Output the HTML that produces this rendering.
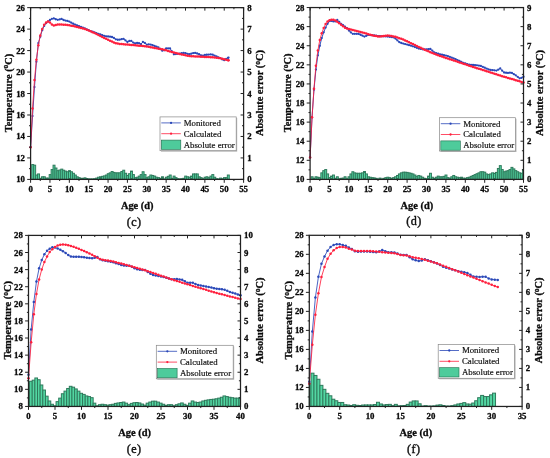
<!DOCTYPE html>
<html lang="en">
<head>
<meta charset="utf-8">
<title>Temperature monitoring vs calculation</title>
<style>
html,body{margin:0;padding:0;background:#fff;}
body{width:550px;height:458px;overflow:hidden;}
svg{display:block;font-family:"Liberation Serif",serif;}
.tl text{font-size:8.8px;font-weight:bold;fill:#0a0a0a;stroke:#0a0a0a;stroke-width:0.3px;}
.ti{font-size:10.4px;font-weight:bold;fill:#0a0a0a;stroke:#0a0a0a;stroke-width:0.3px;}
.ti .sup{font-size:7.5px;}
.lg text{font-size:8.8px;fill:#111;stroke:#111;stroke-width:0.18px;}
.cap{font-size:12.2px;fill:#111;stroke:#111;stroke-width:0.4px;letter-spacing:0.4px;}
</style>
</head>
<body>
<svg width="550" height="458" viewBox="0 0 550 458">
<rect width="550" height="458" fill="#fff"/>
<g class="chart" id="chart-c">
<g fill="#52D6A2" stroke="#2F7A5C" stroke-width="1.0">
<rect x="31.76" y="164.55" width="1.94" height="14.85"/>
<rect x="33.70" y="165.20" width="1.94" height="14.20"/>
<rect x="35.63" y="175.03" width="1.94" height="4.37"/>
<rect x="37.57" y="173.94" width="1.94" height="5.46"/>
<rect x="39.51" y="178.31" width="1.94" height="1.09"/>
<rect x="41.44" y="176.78" width="1.94" height="2.62"/>
<rect x="43.38" y="176.78" width="1.94" height="2.62"/>
<rect x="45.32" y="178.09" width="1.94" height="1.31"/>
<rect x="47.25" y="178.09" width="1.94" height="1.31"/>
<rect x="49.19" y="174.60" width="1.94" height="4.80"/>
<rect x="51.13" y="169.57" width="1.94" height="9.83"/>
<rect x="53.06" y="165.20" width="1.94" height="14.20"/>
<rect x="55.00" y="168.04" width="1.94" height="11.36"/>
<rect x="56.93" y="170.66" width="1.94" height="8.74"/>
<rect x="58.87" y="170.01" width="1.94" height="9.39"/>
<rect x="60.81" y="169.14" width="1.94" height="10.26"/>
<rect x="62.74" y="170.23" width="1.94" height="9.17"/>
<rect x="64.68" y="171.10" width="1.94" height="8.30"/>
<rect x="66.62" y="171.76" width="1.94" height="7.64"/>
<rect x="68.55" y="170.66" width="1.94" height="8.74"/>
<rect x="70.49" y="171.76" width="1.94" height="7.64"/>
<rect x="72.43" y="173.28" width="1.94" height="6.12"/>
<rect x="74.36" y="175.03" width="1.94" height="4.37"/>
<rect x="76.30" y="176.78" width="1.94" height="2.62"/>
<rect x="78.23" y="177.65" width="1.94" height="1.75"/>
<rect x="80.17" y="178.31" width="1.94" height="1.09"/>
<rect x="82.11" y="178.31" width="1.94" height="1.09"/>
<rect x="84.04" y="177.87" width="1.94" height="1.53"/>
<rect x="85.98" y="178.53" width="1.94" height="0.87"/>
<rect x="87.92" y="178.96" width="1.94" height="0.44"/>
<rect x="89.85" y="178.96" width="1.94" height="0.44"/>
<rect x="91.79" y="178.96" width="1.94" height="0.44"/>
<rect x="93.73" y="178.74" width="1.94" height="0.66"/>
<rect x="95.66" y="178.09" width="1.94" height="1.31"/>
<rect x="97.60" y="177.22" width="1.94" height="2.18"/>
<rect x="99.53" y="176.78" width="1.94" height="2.62"/>
<rect x="101.47" y="176.34" width="1.94" height="3.06"/>
<rect x="103.41" y="175.91" width="1.94" height="3.49"/>
<rect x="105.34" y="175.03" width="1.94" height="4.37"/>
<rect x="107.28" y="173.72" width="1.94" height="5.68"/>
<rect x="109.22" y="172.85" width="1.94" height="6.55"/>
<rect x="111.15" y="171.54" width="1.94" height="7.86"/>
<rect x="113.09" y="172.41" width="1.94" height="6.99"/>
<rect x="115.03" y="172.85" width="1.94" height="6.55"/>
<rect x="116.96" y="172.85" width="1.94" height="6.55"/>
<rect x="118.90" y="172.85" width="1.94" height="6.55"/>
<rect x="120.83" y="171.54" width="1.94" height="7.86"/>
<rect x="122.77" y="170.23" width="1.94" height="9.17"/>
<rect x="124.71" y="173.28" width="1.94" height="6.12"/>
<rect x="126.64" y="175.47" width="1.94" height="3.93"/>
<rect x="128.58" y="173.72" width="1.94" height="5.68"/>
<rect x="130.52" y="171.10" width="1.94" height="8.30"/>
<rect x="132.45" y="174.60" width="1.94" height="4.80"/>
<rect x="134.39" y="177.65" width="1.94" height="1.75"/>
<rect x="136.33" y="177.22" width="1.94" height="2.18"/>
<rect x="138.26" y="176.12" width="1.94" height="3.28"/>
<rect x="140.20" y="174.60" width="1.94" height="4.80"/>
<rect x="142.13" y="171.76" width="1.94" height="7.64"/>
<rect x="144.07" y="174.60" width="1.94" height="4.80"/>
<rect x="146.01" y="177.65" width="1.94" height="1.75"/>
<rect x="147.94" y="176.78" width="1.94" height="2.62"/>
<rect x="149.88" y="175.03" width="1.94" height="4.37"/>
<rect x="151.82" y="175.47" width="1.94" height="3.93"/>
<rect x="153.75" y="176.12" width="1.94" height="3.28"/>
<rect x="155.69" y="177.22" width="1.94" height="2.18"/>
<rect x="157.63" y="177.65" width="1.94" height="1.75"/>
<rect x="159.56" y="178.31" width="1.94" height="1.09"/>
<rect x="161.50" y="176.78" width="1.94" height="2.62"/>
<rect x="163.43" y="178.96" width="1.94" height="0.44"/>
<rect x="165.37" y="177.22" width="1.94" height="2.18"/>
<rect x="167.31" y="176.34" width="1.94" height="3.06"/>
<rect x="169.24" y="175.03" width="1.94" height="4.37"/>
<rect x="171.18" y="178.31" width="1.94" height="1.09"/>
<rect x="173.12" y="176.12" width="1.94" height="3.28"/>
<rect x="175.05" y="177.65" width="1.94" height="1.75"/>
<rect x="176.99" y="178.74" width="1.94" height="0.66"/>
<rect x="178.93" y="178.96" width="1.94" height="0.44"/>
<rect x="180.86" y="178.74" width="1.94" height="0.66"/>
<rect x="182.80" y="178.31" width="1.94" height="1.09"/>
<rect x="184.73" y="176.12" width="1.94" height="3.28"/>
<rect x="186.67" y="176.78" width="1.94" height="2.62"/>
<rect x="188.61" y="177.22" width="1.94" height="2.18"/>
<rect x="190.54" y="176.12" width="1.94" height="3.28"/>
<rect x="192.48" y="173.94" width="1.94" height="5.46"/>
<rect x="194.42" y="173.94" width="1.94" height="5.46"/>
<rect x="196.35" y="173.94" width="1.94" height="5.46"/>
<rect x="198.29" y="176.78" width="1.94" height="2.62"/>
<rect x="200.23" y="177.65" width="1.94" height="1.75"/>
<rect x="202.16" y="178.74" width="1.94" height="0.66"/>
<rect x="204.10" y="177.22" width="1.94" height="2.18"/>
<rect x="206.03" y="176.78" width="1.94" height="2.62"/>
<rect x="207.97" y="177.65" width="1.94" height="1.75"/>
<rect x="209.91" y="176.12" width="1.94" height="3.28"/>
<rect x="211.84" y="174.60" width="1.94" height="4.80"/>
<rect x="213.78" y="177.22" width="1.94" height="2.18"/>
<rect x="215.72" y="178.74" width="1.94" height="0.66"/>
<rect x="217.65" y="178.96" width="1.94" height="0.44"/>
<rect x="219.59" y="178.09" width="1.94" height="1.31"/>
<rect x="221.53" y="178.74" width="1.94" height="0.66"/>
<rect x="223.46" y="177.65" width="1.94" height="1.75"/>
<rect x="225.40" y="177.65" width="1.94" height="1.75"/>
<rect x="227.33" y="175.03" width="1.94" height="4.37"/>
</g>
<polyline points="30.60,147.20 32.54,116.07 34.47,87.08 36.41,61.64 38.35,43.07 40.28,36.63 42.22,30.19 44.15,25.90 46.09,23.21 48.03,21.39 49.96,19.99 51.90,18.81 53.84,18.38 55.77,19.24 57.71,19.78 59.65,19.46 61.58,18.92 63.52,19.99 65.45,20.53 67.39,20.93 69.33,21.60 71.26,22.68 73.20,23.75 75.14,24.56 77.07,25.36 79.01,26.17 80.95,26.97 82.88,27.73 84.82,28.49 86.75,29.32 88.69,30.18 90.63,31.05 92.56,31.75 94.50,32.45 96.44,33.14 98.37,33.82 100.31,34.49 102.25,35.14 104.18,35.79 106.12,36.34 108.05,36.49 109.99,36.63 111.93,37.02 113.86,37.97 115.80,39.32 117.74,39.77 119.67,39.64 121.61,39.21 123.55,38.78 125.48,40.39 127.42,42.00 129.35,40.93 131.29,40.93 133.23,42.54 135.16,43.29 137.10,43.02 139.04,43.23 140.97,44.15 142.91,41.91 144.85,42.89 146.78,44.68 148.72,44.30 150.65,44.55 152.59,45.22 154.53,45.94 156.46,46.65 158.40,47.37 160.34,49.02 162.27,50.68 164.21,50.25 166.15,48.44 168.08,48.44 170.02,48.44 171.95,51.39 173.89,54.34 175.83,54.08 177.76,53.81 179.70,53.54 181.64,53.27 183.57,53.00 185.51,53.11 187.45,53.80 189.38,54.23 191.32,53.65 193.25,53.08 195.19,52.95 197.13,53.49 199.06,54.24 201.00,55.31 202.94,55.65 204.87,54.88 206.81,54.73 208.75,54.58 210.68,54.43 212.62,54.70 214.55,55.60 216.49,56.49 218.43,57.30 220.36,58.10 222.30,59.41 224.24,60.22 226.17,59.01 228.11,57.81 228.50,57.56" fill="none" stroke="#2A48B8" stroke-width="0.95" stroke-linejoin="round"/>
<g fill="#2A48B8">
<circle cx="30.60" cy="147.20" r="1.15"/>
<circle cx="32.54" cy="116.07" r="1.15"/>
<circle cx="34.47" cy="87.08" r="1.15"/>
<circle cx="36.41" cy="61.64" r="1.15"/>
<circle cx="38.35" cy="43.07" r="1.15"/>
<circle cx="40.28" cy="36.63" r="1.15"/>
<circle cx="42.22" cy="30.19" r="1.15"/>
<circle cx="44.15" cy="25.90" r="1.15"/>
<circle cx="46.09" cy="23.21" r="1.15"/>
<circle cx="48.03" cy="21.39" r="1.15"/>
<circle cx="49.96" cy="19.99" r="1.15"/>
<circle cx="51.90" cy="18.81" r="1.15"/>
<circle cx="53.84" cy="18.38" r="1.15"/>
<circle cx="55.77" cy="19.24" r="1.15"/>
<circle cx="57.71" cy="19.78" r="1.15"/>
<circle cx="59.65" cy="19.46" r="1.15"/>
<circle cx="61.58" cy="18.92" r="1.15"/>
<circle cx="63.52" cy="19.99" r="1.15"/>
<circle cx="65.45" cy="20.53" r="1.15"/>
<circle cx="67.39" cy="20.93" r="1.15"/>
<circle cx="69.33" cy="21.60" r="1.15"/>
<circle cx="71.26" cy="22.68" r="1.15"/>
<circle cx="73.20" cy="23.75" r="1.15"/>
<circle cx="75.14" cy="24.56" r="1.15"/>
<circle cx="77.07" cy="25.36" r="1.15"/>
<circle cx="79.01" cy="26.17" r="1.15"/>
<circle cx="80.95" cy="26.97" r="1.15"/>
<circle cx="82.88" cy="27.73" r="1.15"/>
<circle cx="84.82" cy="28.49" r="1.15"/>
<circle cx="86.75" cy="29.32" r="1.15"/>
<circle cx="88.69" cy="30.18" r="1.15"/>
<circle cx="90.63" cy="31.05" r="1.15"/>
<circle cx="92.56" cy="31.75" r="1.15"/>
<circle cx="94.50" cy="32.45" r="1.15"/>
<circle cx="96.44" cy="33.14" r="1.15"/>
<circle cx="98.37" cy="33.82" r="1.15"/>
<circle cx="100.31" cy="34.49" r="1.15"/>
<circle cx="102.25" cy="35.14" r="1.15"/>
<circle cx="104.18" cy="35.79" r="1.15"/>
<circle cx="106.12" cy="36.34" r="1.15"/>
<circle cx="108.05" cy="36.49" r="1.15"/>
<circle cx="109.99" cy="36.63" r="1.15"/>
<circle cx="111.93" cy="37.02" r="1.15"/>
<circle cx="113.86" cy="37.97" r="1.15"/>
<circle cx="115.80" cy="39.32" r="1.15"/>
<circle cx="117.74" cy="39.77" r="1.15"/>
<circle cx="119.67" cy="39.64" r="1.15"/>
<circle cx="121.61" cy="39.21" r="1.15"/>
<circle cx="123.55" cy="38.78" r="1.15"/>
<circle cx="125.48" cy="40.39" r="1.15"/>
<circle cx="127.42" cy="42.00" r="1.15"/>
<circle cx="129.35" cy="40.93" r="1.15"/>
<circle cx="131.29" cy="40.93" r="1.15"/>
<circle cx="133.23" cy="42.54" r="1.15"/>
<circle cx="135.16" cy="43.29" r="1.15"/>
<circle cx="137.10" cy="43.02" r="1.15"/>
<circle cx="139.04" cy="43.23" r="1.15"/>
<circle cx="140.97" cy="44.15" r="1.15"/>
<circle cx="142.91" cy="41.91" r="1.15"/>
<circle cx="144.85" cy="42.89" r="1.15"/>
<circle cx="146.78" cy="44.68" r="1.15"/>
<circle cx="148.72" cy="44.30" r="1.15"/>
<circle cx="150.65" cy="44.55" r="1.15"/>
<circle cx="152.59" cy="45.22" r="1.15"/>
<circle cx="154.53" cy="45.94" r="1.15"/>
<circle cx="156.46" cy="46.65" r="1.15"/>
<circle cx="158.40" cy="47.37" r="1.15"/>
<circle cx="160.34" cy="49.02" r="1.15"/>
<circle cx="162.27" cy="50.68" r="1.15"/>
<circle cx="164.21" cy="50.25" r="1.15"/>
<circle cx="166.15" cy="48.44" r="1.15"/>
<circle cx="168.08" cy="48.44" r="1.15"/>
<circle cx="170.02" cy="48.44" r="1.15"/>
<circle cx="171.95" cy="51.39" r="1.15"/>
<circle cx="173.89" cy="54.34" r="1.15"/>
<circle cx="175.83" cy="54.08" r="1.15"/>
<circle cx="177.76" cy="53.81" r="1.15"/>
<circle cx="179.70" cy="53.54" r="1.15"/>
<circle cx="181.64" cy="53.27" r="1.15"/>
<circle cx="183.57" cy="53.00" r="1.15"/>
<circle cx="185.51" cy="53.11" r="1.15"/>
<circle cx="187.45" cy="53.80" r="1.15"/>
<circle cx="189.38" cy="54.23" r="1.15"/>
<circle cx="191.32" cy="53.65" r="1.15"/>
<circle cx="193.25" cy="53.08" r="1.15"/>
<circle cx="195.19" cy="52.95" r="1.15"/>
<circle cx="197.13" cy="53.49" r="1.15"/>
<circle cx="199.06" cy="54.24" r="1.15"/>
<circle cx="201.00" cy="55.31" r="1.15"/>
<circle cx="202.94" cy="55.65" r="1.15"/>
<circle cx="204.87" cy="54.88" r="1.15"/>
<circle cx="206.81" cy="54.73" r="1.15"/>
<circle cx="208.75" cy="54.58" r="1.15"/>
<circle cx="210.68" cy="54.43" r="1.15"/>
<circle cx="212.62" cy="54.70" r="1.15"/>
<circle cx="214.55" cy="55.60" r="1.15"/>
<circle cx="216.49" cy="56.49" r="1.15"/>
<circle cx="218.43" cy="57.30" r="1.15"/>
<circle cx="220.36" cy="58.10" r="1.15"/>
<circle cx="222.30" cy="59.41" r="1.15"/>
<circle cx="224.24" cy="60.22" r="1.15"/>
<circle cx="226.17" cy="59.01" r="1.15"/>
<circle cx="228.11" cy="57.81" r="1.15"/>
<circle cx="228.50" cy="57.56" r="1.15"/>
</g>
<polyline points="30.60,147.20 32.54,108.55 34.47,80.11 36.41,59.71 38.35,45.22 40.28,35.56 42.22,29.12 44.15,24.83 46.09,22.46 48.03,21.60 49.96,22.46 51.90,24.61 53.84,25.58 55.77,25.04 57.71,24.61 59.65,24.46 61.58,24.49 63.52,24.66 65.45,24.83 67.39,25.09 69.33,25.36 71.26,25.63 73.20,25.90 75.14,26.40 77.07,26.90 79.01,27.41 80.95,27.91 82.88,28.41 84.82,28.92 86.75,29.64 88.69,30.50 90.63,31.36 92.56,32.22 94.50,33.09 96.44,33.95 98.37,34.93 100.31,35.92 102.25,36.90 104.18,37.89 106.12,38.87 108.05,39.85 109.99,40.71 111.93,41.57 113.86,42.43 115.80,43.29 117.74,43.61 119.67,43.93 121.61,44.09 123.55,44.25 125.48,44.42 127.42,44.58 129.35,44.74 131.29,44.90 133.23,45.06 135.16,45.22 137.10,45.44 139.04,45.65 140.97,45.86 142.91,46.08 144.85,46.29 146.78,46.51 148.72,46.87 150.65,47.22 152.59,47.58 154.53,47.94 156.46,48.30 158.40,48.66 160.34,49.01 162.27,49.37 164.21,49.84 166.15,50.37 168.08,50.91 170.02,51.45 171.95,51.98 173.89,52.52 175.83,53.06 177.76,53.59 179.70,54.02 181.64,54.44 183.57,54.87 185.51,55.30 187.45,55.72 189.38,56.08 191.32,56.19 193.25,56.29 195.19,56.39 197.13,56.50 199.06,56.60 201.00,56.71 202.94,56.79 204.87,56.88 206.81,56.97 208.75,57.05 210.68,57.14 212.62,57.23 214.55,57.47 216.49,57.75 218.43,58.03 220.36,58.32 222.30,58.78 224.24,59.24 226.17,59.70 228.11,60.16 228.50,60.25" fill="none" stroke="#FF1F3D" stroke-width="0.85" stroke-linejoin="round"/>
<g fill="#FF1F3D">
<circle cx="30.60" cy="147.20" r="1.25"/>
<circle cx="32.54" cy="108.55" r="1.25"/>
<circle cx="34.47" cy="80.11" r="1.25"/>
<circle cx="36.41" cy="59.71" r="1.25"/>
<circle cx="38.35" cy="45.22" r="1.25"/>
<circle cx="40.28" cy="35.56" r="1.25"/>
<circle cx="42.22" cy="29.12" r="1.25"/>
<circle cx="44.15" cy="24.83" r="1.25"/>
<circle cx="46.09" cy="22.46" r="1.25"/>
<circle cx="48.03" cy="21.60" r="1.25"/>
<circle cx="49.96" cy="22.46" r="1.25"/>
<circle cx="51.90" cy="24.61" r="1.25"/>
<circle cx="53.84" cy="25.58" r="1.25"/>
<circle cx="55.77" cy="25.04" r="1.25"/>
<circle cx="57.71" cy="24.61" r="1.25"/>
<circle cx="59.65" cy="24.46" r="1.25"/>
<circle cx="61.58" cy="24.49" r="1.25"/>
<circle cx="63.52" cy="24.66" r="1.25"/>
<circle cx="65.45" cy="24.83" r="1.25"/>
<circle cx="67.39" cy="25.09" r="1.25"/>
<circle cx="69.33" cy="25.36" r="1.25"/>
<circle cx="71.26" cy="25.63" r="1.25"/>
<circle cx="73.20" cy="25.90" r="1.25"/>
<circle cx="75.14" cy="26.40" r="1.25"/>
<circle cx="77.07" cy="26.90" r="1.25"/>
<circle cx="79.01" cy="27.41" r="1.25"/>
<circle cx="80.95" cy="27.91" r="1.25"/>
<circle cx="82.88" cy="28.41" r="1.25"/>
<circle cx="84.82" cy="28.92" r="1.25"/>
<circle cx="86.75" cy="29.64" r="1.25"/>
<circle cx="88.69" cy="30.50" r="1.25"/>
<circle cx="90.63" cy="31.36" r="1.25"/>
<circle cx="92.56" cy="32.22" r="1.25"/>
<circle cx="94.50" cy="33.09" r="1.25"/>
<circle cx="96.44" cy="33.95" r="1.25"/>
<circle cx="98.37" cy="34.93" r="1.25"/>
<circle cx="100.31" cy="35.92" r="1.25"/>
<circle cx="102.25" cy="36.90" r="1.25"/>
<circle cx="104.18" cy="37.89" r="1.25"/>
<circle cx="106.12" cy="38.87" r="1.25"/>
<circle cx="108.05" cy="39.85" r="1.25"/>
<circle cx="109.99" cy="40.71" r="1.25"/>
<circle cx="111.93" cy="41.57" r="1.25"/>
<circle cx="113.86" cy="42.43" r="1.25"/>
<circle cx="115.80" cy="43.29" r="1.25"/>
<circle cx="117.74" cy="43.61" r="1.25"/>
<circle cx="119.67" cy="43.93" r="1.25"/>
<circle cx="121.61" cy="44.09" r="1.25"/>
<circle cx="123.55" cy="44.25" r="1.25"/>
<circle cx="125.48" cy="44.42" r="1.25"/>
<circle cx="127.42" cy="44.58" r="1.25"/>
<circle cx="129.35" cy="44.74" r="1.25"/>
<circle cx="131.29" cy="44.90" r="1.25"/>
<circle cx="133.23" cy="45.06" r="1.25"/>
<circle cx="135.16" cy="45.22" r="1.25"/>
<circle cx="137.10" cy="45.44" r="1.25"/>
<circle cx="139.04" cy="45.65" r="1.25"/>
<circle cx="140.97" cy="45.86" r="1.25"/>
<circle cx="142.91" cy="46.08" r="1.25"/>
<circle cx="144.85" cy="46.29" r="1.25"/>
<circle cx="146.78" cy="46.51" r="1.25"/>
<circle cx="148.72" cy="46.87" r="1.25"/>
<circle cx="150.65" cy="47.22" r="1.25"/>
<circle cx="152.59" cy="47.58" r="1.25"/>
<circle cx="154.53" cy="47.94" r="1.25"/>
<circle cx="156.46" cy="48.30" r="1.25"/>
<circle cx="158.40" cy="48.66" r="1.25"/>
<circle cx="160.34" cy="49.01" r="1.25"/>
<circle cx="162.27" cy="49.37" r="1.25"/>
<circle cx="164.21" cy="49.84" r="1.25"/>
<circle cx="166.15" cy="50.37" r="1.25"/>
<circle cx="168.08" cy="50.91" r="1.25"/>
<circle cx="170.02" cy="51.45" r="1.25"/>
<circle cx="171.95" cy="51.98" r="1.25"/>
<circle cx="173.89" cy="52.52" r="1.25"/>
<circle cx="175.83" cy="53.06" r="1.25"/>
<circle cx="177.76" cy="53.59" r="1.25"/>
<circle cx="179.70" cy="54.02" r="1.25"/>
<circle cx="181.64" cy="54.44" r="1.25"/>
<circle cx="183.57" cy="54.87" r="1.25"/>
<circle cx="185.51" cy="55.30" r="1.25"/>
<circle cx="187.45" cy="55.72" r="1.25"/>
<circle cx="189.38" cy="56.08" r="1.25"/>
<circle cx="191.32" cy="56.19" r="1.25"/>
<circle cx="193.25" cy="56.29" r="1.25"/>
<circle cx="195.19" cy="56.39" r="1.25"/>
<circle cx="197.13" cy="56.50" r="1.25"/>
<circle cx="199.06" cy="56.60" r="1.25"/>
<circle cx="201.00" cy="56.71" r="1.25"/>
<circle cx="202.94" cy="56.79" r="1.25"/>
<circle cx="204.87" cy="56.88" r="1.25"/>
<circle cx="206.81" cy="56.97" r="1.25"/>
<circle cx="208.75" cy="57.05" r="1.25"/>
<circle cx="210.68" cy="57.14" r="1.25"/>
<circle cx="212.62" cy="57.23" r="1.25"/>
<circle cx="214.55" cy="57.47" r="1.25"/>
<circle cx="216.49" cy="57.75" r="1.25"/>
<circle cx="218.43" cy="58.03" r="1.25"/>
<circle cx="220.36" cy="58.32" r="1.25"/>
<circle cx="222.30" cy="58.78" r="1.25"/>
<circle cx="224.24" cy="59.24" r="1.25"/>
<circle cx="226.17" cy="59.70" r="1.25"/>
<circle cx="228.11" cy="60.16" r="1.25"/>
<circle cx="228.50" cy="60.25" r="1.25"/>
</g>
<rect x="30.60" y="7.65" width="213.00" height="171.75" fill="none" stroke="#222" stroke-width="1.25"/>
<path d="M30.60 179.40v3.4M30.60 7.65v3M40.28 179.40v1.6M40.28 7.65v1.6M49.96 179.40v3.4M49.96 7.65v3M59.65 179.40v1.6M59.65 7.65v1.6M69.33 179.40v3.4M69.33 7.65v3M79.01 179.40v1.6M79.01 7.65v1.6M88.69 179.40v3.4M88.69 7.65v3M98.37 179.40v1.6M98.37 7.65v1.6M108.05 179.40v3.4M108.05 7.65v3M117.74 179.40v1.6M117.74 7.65v1.6M127.42 179.40v3.4M127.42 7.65v3M137.10 179.40v1.6M137.10 7.65v1.6M146.78 179.40v3.4M146.78 7.65v3M156.46 179.40v1.6M156.46 7.65v1.6M166.15 179.40v3.4M166.15 7.65v3M175.83 179.40v1.6M175.83 7.65v1.6M185.51 179.40v3.4M185.51 7.65v3M195.19 179.40v1.6M195.19 7.65v1.6M204.87 179.40v3.4M204.87 7.65v3M214.55 179.40v1.6M214.55 7.65v1.6M224.24 179.40v3.4M224.24 7.65v3M233.92 179.40v1.6M233.92 7.65v1.6M243.60 179.40v3.4M243.60 7.65v3M30.60 179.40h-3.4M30.60 168.67h-1.6M30.60 157.93h-3.4M30.60 147.20h-1.6M30.60 136.46h-3.4M30.60 125.73h-1.6M30.60 114.99h-3.4M30.60 104.26h-1.6M30.60 93.53h-3.4M30.60 82.79h-1.6M30.60 72.06h-3.4M30.60 61.32h-1.6M30.60 50.59h-3.4M30.60 39.85h-1.6M30.60 29.12h-3.4M30.60 18.38h-1.6M30.60 7.65h-3.4M243.60 179.40h-3M243.60 168.67h-1.6M243.60 157.93h-3M243.60 147.20h-1.6M243.60 136.46h-3M243.60 125.73h-1.6M243.60 114.99h-3M243.60 104.26h-1.6M243.60 93.53h-3M243.60 82.79h-1.6M243.60 72.06h-3M243.60 61.32h-1.6M243.60 50.59h-3M243.60 39.85h-1.6M243.60 29.12h-3M243.60 18.38h-1.6M243.60 7.65h-3" stroke="#222" stroke-width="1" fill="none"/>
<g class="tl" text-anchor="middle">
<text x="30.60" y="192.40">0</text>
<text x="49.96" y="192.40">5</text>
<text x="69.33" y="192.40">10</text>
<text x="88.69" y="192.40">15</text>
<text x="108.05" y="192.40">20</text>
<text x="127.42" y="192.40">25</text>
<text x="146.78" y="192.40">30</text>
<text x="166.15" y="192.40">35</text>
<text x="185.51" y="192.40">40</text>
<text x="204.87" y="192.40">45</text>
<text x="224.24" y="192.40">50</text>
<text x="243.60" y="192.40">55</text>
</g>
<g class="tl" text-anchor="end">
<text x="25.00" y="182.40">10</text>
<text x="25.00" y="160.93">12</text>
<text x="25.00" y="139.46">14</text>
<text x="25.00" y="117.99">16</text>
<text x="25.00" y="96.53">18</text>
<text x="25.00" y="75.06">20</text>
<text x="25.00" y="53.59">22</text>
<text x="25.00" y="32.12">24</text>
<text x="25.00" y="10.65">26</text>
</g>
<g class="tl" text-anchor="start">
<text x="247.20" y="182.40">0</text>
<text x="247.20" y="160.93">1</text>
<text x="247.20" y="139.46">2</text>
<text x="247.20" y="117.99">3</text>
<text x="247.20" y="96.53">4</text>
<text x="247.20" y="75.06">5</text>
<text x="247.20" y="53.59">6</text>
<text x="247.20" y="32.12">7</text>
<text x="247.20" y="10.65">8</text>
</g>
<text class="ti" text-anchor="middle" transform="translate(11.50 92.93) rotate(-90)">Temperature (<tspan class="sup" dy="-3.2">o</tspan><tspan dy="3.2">C)</tspan></text>
<text class="ti" text-anchor="middle" transform="translate(262.80 93.03) rotate(-90)">Absolute error (<tspan class="sup" dy="-3.2">o</tspan><tspan dy="3.2">C)</tspan></text>
<text class="ti" text-anchor="middle" x="137.20" y="209.20">Age (d)</text>
<text class="cap" text-anchor="middle" x="134.20" y="225.80">(c)</text>
<rect x="161.00" y="117.90" width="76.20" height="33.80" fill="#bbb"/>
<rect x="160.00" y="116.90" width="76.20" height="33.80" fill="#fff" stroke="#888" stroke-width="0.7"/>
<path d="M161.30 122.90H180.80" stroke="#2A48B8" stroke-width="0.8"/><circle cx="171.05" cy="122.90" r="1.15" fill="#2A48B8"/>
<path d="M161.30 133.70H180.80" stroke="#FF1F3D" stroke-width="0.8"/><circle cx="171.05" cy="133.70" r="1.15" fill="#FF1F3D"/>
<rect x="161.30" y="140.10" width="19.50" height="9.3" fill="#4ECB9B" stroke="#1F6B4B" stroke-width="0.6"/>
<g class="lg"><text x="183.70" y="125.80">Monitored</text><text x="183.70" y="136.60">Calculated</text><text x="183.70" y="147.60">Absolute error</text></g>
</g>
<g class="chart" id="chart-d">
<g fill="#52D6A2" stroke="#2F7A5C" stroke-width="1.0">
<rect x="311.15" y="176.78" width="1.94" height="2.62"/>
<rect x="313.09" y="178.31" width="1.94" height="1.09"/>
<rect x="315.03" y="176.78" width="1.94" height="2.62"/>
<rect x="316.97" y="177.22" width="1.94" height="2.18"/>
<rect x="318.91" y="177.65" width="1.94" height="1.75"/>
<rect x="320.85" y="172.85" width="1.94" height="6.55"/>
<rect x="322.79" y="170.66" width="1.94" height="8.74"/>
<rect x="324.73" y="169.57" width="1.94" height="9.83"/>
<rect x="326.67" y="173.94" width="1.94" height="5.46"/>
<rect x="328.61" y="177.65" width="1.94" height="1.75"/>
<rect x="330.55" y="176.12" width="1.94" height="3.28"/>
<rect x="332.49" y="175.03" width="1.94" height="4.37"/>
<rect x="334.43" y="178.31" width="1.94" height="1.09"/>
<rect x="336.37" y="176.78" width="1.94" height="2.62"/>
<rect x="338.31" y="178.74" width="1.94" height="0.66"/>
<rect x="340.25" y="178.31" width="1.94" height="1.09"/>
<rect x="342.19" y="178.09" width="1.94" height="1.31"/>
<rect x="344.13" y="176.78" width="1.94" height="2.62"/>
<rect x="346.07" y="178.74" width="1.94" height="0.66"/>
<rect x="348.01" y="176.78" width="1.94" height="2.62"/>
<rect x="349.95" y="173.94" width="1.94" height="5.46"/>
<rect x="351.89" y="171.75" width="1.94" height="7.65"/>
<rect x="353.83" y="172.85" width="1.94" height="6.55"/>
<rect x="355.77" y="173.28" width="1.94" height="6.12"/>
<rect x="357.71" y="173.28" width="1.94" height="6.12"/>
<rect x="359.65" y="173.28" width="1.94" height="6.12"/>
<rect x="361.59" y="172.85" width="1.94" height="6.55"/>
<rect x="363.53" y="171.54" width="1.94" height="7.86"/>
<rect x="365.47" y="173.94" width="1.94" height="5.46"/>
<rect x="367.41" y="176.78" width="1.94" height="2.62"/>
<rect x="369.35" y="177.22" width="1.94" height="2.18"/>
<rect x="371.29" y="177.65" width="1.94" height="1.75"/>
<rect x="373.23" y="177.87" width="1.94" height="1.53"/>
<rect x="375.17" y="178.31" width="1.94" height="1.09"/>
<rect x="377.11" y="178.96" width="1.94" height="0.44"/>
<rect x="379.05" y="178.09" width="1.94" height="1.31"/>
<rect x="380.99" y="178.96" width="1.94" height="0.44"/>
<rect x="382.93" y="178.31" width="1.94" height="1.09"/>
<rect x="384.87" y="177.65" width="1.94" height="1.75"/>
<rect x="386.81" y="177.22" width="1.94" height="2.18"/>
<rect x="388.75" y="177.65" width="1.94" height="1.75"/>
<rect x="390.69" y="178.31" width="1.94" height="1.09"/>
<rect x="392.63" y="177.65" width="1.94" height="1.75"/>
<rect x="394.57" y="176.78" width="1.94" height="2.62"/>
<rect x="396.51" y="175.47" width="1.94" height="3.93"/>
<rect x="398.45" y="173.94" width="1.94" height="5.46"/>
<rect x="400.39" y="172.85" width="1.94" height="6.55"/>
<rect x="402.33" y="172.19" width="1.94" height="7.21"/>
<rect x="404.27" y="172.19" width="1.94" height="7.21"/>
<rect x="406.21" y="172.41" width="1.94" height="6.99"/>
<rect x="408.15" y="172.85" width="1.94" height="6.55"/>
<rect x="410.09" y="173.28" width="1.94" height="6.12"/>
<rect x="412.03" y="173.94" width="1.94" height="5.46"/>
<rect x="413.97" y="175.03" width="1.94" height="4.37"/>
<rect x="415.91" y="176.34" width="1.94" height="3.06"/>
<rect x="417.85" y="175.47" width="1.94" height="3.93"/>
<rect x="419.79" y="176.12" width="1.94" height="3.28"/>
<rect x="421.73" y="177.22" width="1.94" height="2.18"/>
<rect x="423.67" y="178.31" width="1.94" height="1.09"/>
<rect x="425.61" y="178.74" width="1.94" height="0.66"/>
<rect x="427.55" y="176.12" width="1.94" height="3.28"/>
<rect x="429.49" y="173.28" width="1.94" height="6.12"/>
<rect x="431.43" y="177.22" width="1.94" height="2.18"/>
<rect x="433.37" y="178.31" width="1.94" height="1.09"/>
<rect x="435.31" y="177.22" width="1.94" height="2.18"/>
<rect x="437.25" y="176.12" width="1.94" height="3.28"/>
<rect x="439.19" y="176.78" width="1.94" height="2.62"/>
<rect x="441.13" y="176.78" width="1.94" height="2.62"/>
<rect x="443.07" y="176.34" width="1.94" height="3.06"/>
<rect x="445.01" y="175.03" width="1.94" height="4.37"/>
<rect x="446.95" y="177.65" width="1.94" height="1.75"/>
<rect x="448.89" y="178.09" width="1.94" height="1.31"/>
<rect x="450.83" y="176.78" width="1.94" height="2.62"/>
<rect x="452.77" y="175.47" width="1.94" height="3.93"/>
<rect x="454.71" y="176.78" width="1.94" height="2.62"/>
<rect x="456.65" y="177.22" width="1.94" height="2.18"/>
<rect x="458.59" y="177.65" width="1.94" height="1.75"/>
<rect x="460.53" y="177.22" width="1.94" height="2.18"/>
<rect x="462.47" y="178.09" width="1.94" height="1.31"/>
<rect x="464.41" y="178.31" width="1.94" height="1.09"/>
<rect x="466.35" y="177.65" width="1.94" height="1.75"/>
<rect x="468.29" y="177.22" width="1.94" height="2.18"/>
<rect x="470.23" y="176.34" width="1.94" height="3.06"/>
<rect x="472.17" y="175.47" width="1.94" height="3.93"/>
<rect x="474.11" y="174.59" width="1.94" height="4.81"/>
<rect x="476.05" y="173.72" width="1.94" height="5.68"/>
<rect x="477.99" y="172.85" width="1.94" height="6.55"/>
<rect x="479.93" y="171.75" width="1.94" height="7.65"/>
<rect x="481.87" y="171.75" width="1.94" height="7.65"/>
<rect x="483.81" y="172.19" width="1.94" height="7.21"/>
<rect x="485.75" y="173.94" width="1.94" height="5.46"/>
<rect x="487.69" y="174.59" width="1.94" height="4.81"/>
<rect x="489.63" y="173.94" width="1.94" height="5.46"/>
<rect x="491.57" y="172.85" width="1.94" height="6.55"/>
<rect x="493.51" y="173.28" width="1.94" height="6.12"/>
<rect x="495.45" y="172.41" width="1.94" height="6.99"/>
<rect x="497.39" y="168.48" width="1.94" height="10.92"/>
<rect x="499.33" y="165.64" width="1.94" height="13.76"/>
<rect x="501.27" y="169.57" width="1.94" height="9.83"/>
<rect x="503.21" y="171.75" width="1.94" height="7.65"/>
<rect x="505.15" y="171.10" width="1.94" height="8.30"/>
<rect x="507.09" y="170.66" width="1.94" height="8.74"/>
<rect x="509.03" y="169.57" width="1.94" height="9.83"/>
<rect x="510.97" y="167.38" width="1.94" height="12.02"/>
<rect x="512.91" y="168.91" width="1.94" height="10.49"/>
<rect x="514.85" y="170.66" width="1.94" height="8.74"/>
<rect x="516.79" y="171.75" width="1.94" height="7.65"/>
<rect x="518.73" y="172.85" width="1.94" height="6.55"/>
<rect x="520.67" y="173.28" width="1.94" height="6.12"/>
<rect x="522.61" y="169.57" width="0.89" height="9.83"/>
</g>
<polyline points="310.10,157.44 312.04,117.34 313.98,89.66 315.92,69.61 317.86,55.29 319.80,45.74 321.74,38.10 323.68,32.37 325.62,27.60 327.56,23.78 329.50,21.11 331.44,20.92 333.38,21.39 335.32,21.39 337.26,19.96 339.20,21.87 341.14,23.78 343.08,25.21 345.02,26.64 346.96,28.08 348.90,30.60 350.84,32.43 352.78,33.80 354.72,33.80 356.66,33.80 358.60,33.96 360.54,34.76 362.48,35.67 364.42,36.60 366.36,35.73 368.30,34.86 370.24,35.05 372.18,35.24 374.12,35.50 376.06,35.77 378.00,36.03 379.94,36.22 381.88,36.28 383.82,36.35 385.76,36.41 387.70,36.48 389.64,36.79 391.58,37.10 393.52,37.40 395.46,38.59 397.40,40.38 399.34,42.22 401.28,43.02 403.22,43.57 405.16,44.12 407.10,44.62 409.04,45.13 410.98,45.63 412.92,46.29 414.86,47.05 416.80,47.81 418.74,48.49 420.68,48.90 422.62,49.31 424.56,49.49 426.50,49.32 428.44,49.15 430.38,48.98 432.32,50.68 434.26,52.37 436.20,53.17 438.14,53.75 440.08,54.33 442.02,54.76 443.96,55.19 445.90,55.62 447.84,56.05 449.78,56.86 451.72,57.67 453.66,58.47 455.60,59.26 457.54,60.06 459.48,61.01 461.42,61.97 463.36,62.92 465.30,63.52 467.24,64.12 469.18,64.71 471.12,64.92 473.06,65.02 475.00,65.12 476.94,65.36 478.88,65.60 480.82,65.96 482.76,66.83 484.70,67.70 486.64,68.57 488.58,69.45 490.52,69.91 492.46,70.08 494.40,70.34 496.34,70.61 498.28,69.68 500.22,68.46 502.16,70.69 504.10,72.51 506.04,72.73 507.98,72.95 509.92,72.65 511.86,72.95 513.80,74.14 515.74,75.34 517.68,76.81 519.62,78.29 521.56,77.78 523.50,76.77" fill="none" stroke="#2A48B8" stroke-width="0.95" stroke-linejoin="round"/>
<g fill="#2A48B8">
<circle cx="310.10" cy="157.44" r="1.15"/>
<circle cx="312.04" cy="117.34" r="1.15"/>
<circle cx="313.98" cy="89.66" r="1.15"/>
<circle cx="315.92" cy="69.61" r="1.15"/>
<circle cx="317.86" cy="55.29" r="1.15"/>
<circle cx="319.80" cy="45.74" r="1.15"/>
<circle cx="321.74" cy="38.10" r="1.15"/>
<circle cx="323.68" cy="32.37" r="1.15"/>
<circle cx="325.62" cy="27.60" r="1.15"/>
<circle cx="327.56" cy="23.78" r="1.15"/>
<circle cx="329.50" cy="21.11" r="1.15"/>
<circle cx="331.44" cy="20.92" r="1.15"/>
<circle cx="333.38" cy="21.39" r="1.15"/>
<circle cx="335.32" cy="21.39" r="1.15"/>
<circle cx="337.26" cy="19.96" r="1.15"/>
<circle cx="339.20" cy="21.87" r="1.15"/>
<circle cx="341.14" cy="23.78" r="1.15"/>
<circle cx="343.08" cy="25.21" r="1.15"/>
<circle cx="345.02" cy="26.64" r="1.15"/>
<circle cx="346.96" cy="28.08" r="1.15"/>
<circle cx="348.90" cy="30.60" r="1.15"/>
<circle cx="350.84" cy="32.43" r="1.15"/>
<circle cx="352.78" cy="33.80" r="1.15"/>
<circle cx="354.72" cy="33.80" r="1.15"/>
<circle cx="356.66" cy="33.80" r="1.15"/>
<circle cx="358.60" cy="33.96" r="1.15"/>
<circle cx="360.54" cy="34.76" r="1.15"/>
<circle cx="362.48" cy="35.67" r="1.15"/>
<circle cx="364.42" cy="36.60" r="1.15"/>
<circle cx="366.36" cy="35.73" r="1.15"/>
<circle cx="368.30" cy="34.86" r="1.15"/>
<circle cx="370.24" cy="35.05" r="1.15"/>
<circle cx="372.18" cy="35.24" r="1.15"/>
<circle cx="374.12" cy="35.50" r="1.15"/>
<circle cx="376.06" cy="35.77" r="1.15"/>
<circle cx="378.00" cy="36.03" r="1.15"/>
<circle cx="379.94" cy="36.22" r="1.15"/>
<circle cx="381.88" cy="36.28" r="1.15"/>
<circle cx="383.82" cy="36.35" r="1.15"/>
<circle cx="385.76" cy="36.41" r="1.15"/>
<circle cx="387.70" cy="36.48" r="1.15"/>
<circle cx="389.64" cy="36.79" r="1.15"/>
<circle cx="391.58" cy="37.10" r="1.15"/>
<circle cx="393.52" cy="37.40" r="1.15"/>
<circle cx="395.46" cy="38.59" r="1.15"/>
<circle cx="397.40" cy="40.38" r="1.15"/>
<circle cx="399.34" cy="42.22" r="1.15"/>
<circle cx="401.28" cy="43.02" r="1.15"/>
<circle cx="403.22" cy="43.57" r="1.15"/>
<circle cx="405.16" cy="44.12" r="1.15"/>
<circle cx="407.10" cy="44.62" r="1.15"/>
<circle cx="409.04" cy="45.13" r="1.15"/>
<circle cx="410.98" cy="45.63" r="1.15"/>
<circle cx="412.92" cy="46.29" r="1.15"/>
<circle cx="414.86" cy="47.05" r="1.15"/>
<circle cx="416.80" cy="47.81" r="1.15"/>
<circle cx="418.74" cy="48.49" r="1.15"/>
<circle cx="420.68" cy="48.90" r="1.15"/>
<circle cx="422.62" cy="49.31" r="1.15"/>
<circle cx="424.56" cy="49.49" r="1.15"/>
<circle cx="426.50" cy="49.32" r="1.15"/>
<circle cx="428.44" cy="49.15" r="1.15"/>
<circle cx="430.38" cy="48.98" r="1.15"/>
<circle cx="432.32" cy="50.68" r="1.15"/>
<circle cx="434.26" cy="52.37" r="1.15"/>
<circle cx="436.20" cy="53.17" r="1.15"/>
<circle cx="438.14" cy="53.75" r="1.15"/>
<circle cx="440.08" cy="54.33" r="1.15"/>
<circle cx="442.02" cy="54.76" r="1.15"/>
<circle cx="443.96" cy="55.19" r="1.15"/>
<circle cx="445.90" cy="55.62" r="1.15"/>
<circle cx="447.84" cy="56.05" r="1.15"/>
<circle cx="449.78" cy="56.86" r="1.15"/>
<circle cx="451.72" cy="57.67" r="1.15"/>
<circle cx="453.66" cy="58.47" r="1.15"/>
<circle cx="455.60" cy="59.26" r="1.15"/>
<circle cx="457.54" cy="60.06" r="1.15"/>
<circle cx="459.48" cy="61.01" r="1.15"/>
<circle cx="461.42" cy="61.97" r="1.15"/>
<circle cx="463.36" cy="62.92" r="1.15"/>
<circle cx="465.30" cy="63.52" r="1.15"/>
<circle cx="467.24" cy="64.12" r="1.15"/>
<circle cx="469.18" cy="64.71" r="1.15"/>
<circle cx="471.12" cy="64.92" r="1.15"/>
<circle cx="473.06" cy="65.02" r="1.15"/>
<circle cx="475.00" cy="65.12" r="1.15"/>
<circle cx="476.94" cy="65.36" r="1.15"/>
<circle cx="478.88" cy="65.60" r="1.15"/>
<circle cx="480.82" cy="65.96" r="1.15"/>
<circle cx="482.76" cy="66.83" r="1.15"/>
<circle cx="484.70" cy="67.70" r="1.15"/>
<circle cx="486.64" cy="68.57" r="1.15"/>
<circle cx="488.58" cy="69.45" r="1.15"/>
<circle cx="490.52" cy="69.91" r="1.15"/>
<circle cx="492.46" cy="70.08" r="1.15"/>
<circle cx="494.40" cy="70.34" r="1.15"/>
<circle cx="496.34" cy="70.61" r="1.15"/>
<circle cx="498.28" cy="69.68" r="1.15"/>
<circle cx="500.22" cy="68.46" r="1.15"/>
<circle cx="502.16" cy="70.69" r="1.15"/>
<circle cx="504.10" cy="72.51" r="1.15"/>
<circle cx="506.04" cy="72.73" r="1.15"/>
<circle cx="507.98" cy="72.95" r="1.15"/>
<circle cx="509.92" cy="72.65" r="1.15"/>
<circle cx="511.86" cy="72.95" r="1.15"/>
<circle cx="513.80" cy="74.14" r="1.15"/>
<circle cx="515.74" cy="75.34" r="1.15"/>
<circle cx="517.68" cy="76.81" r="1.15"/>
<circle cx="519.62" cy="78.29" r="1.15"/>
<circle cx="521.56" cy="77.78" r="1.15"/>
<circle cx="523.50" cy="76.77" r="1.15"/>
</g>
<polyline points="310.10,157.44 312.04,117.34 313.98,88.70 315.92,65.79 317.86,50.51 319.80,40.01 321.74,33.33 323.68,28.08 325.62,24.07 327.56,21.58 329.50,20.15 331.44,19.67 333.38,19.77 335.32,20.44 337.26,21.68 339.20,23.21 341.14,24.74 343.08,26.24 345.02,27.74 346.96,28.43 348.90,29.03 350.84,29.52 352.78,30.01 354.72,30.51 356.66,31.00 358.60,31.49 360.54,31.98 362.48,32.50 364.42,33.04 366.36,33.59 368.30,34.14 370.24,34.69 372.18,35.24 374.12,35.63 376.06,36.03 378.00,36.43 379.94,36.56 381.88,36.28 383.82,36.00 385.76,35.76 387.70,35.52 389.64,35.71 391.58,35.91 393.52,36.38 395.46,36.86 397.40,37.43 399.34,38.13 401.28,38.83 403.22,39.53 405.16,40.43 407.10,41.33 409.04,42.23 410.98,43.15 412.92,44.10 414.86,45.04 416.80,45.98 418.74,46.92 420.68,47.86 422.62,48.81 424.56,49.75 426.50,50.55 428.44,51.36 430.38,52.17 432.32,52.97 434.26,53.78 436.20,54.58 438.14,55.29 440.08,55.94 442.02,56.59 443.96,57.24 445.90,57.88 447.84,58.53 449.78,59.18 451.72,59.83 453.66,60.48 455.60,61.12 457.54,61.77 459.48,62.42 461.42,63.07 463.36,63.71 465.30,64.36 467.24,65.01 469.18,65.66 471.12,66.28 473.06,66.90 475.00,67.52 476.94,68.14 478.88,68.75 480.82,69.37 482.76,69.99 484.70,70.61 486.64,71.22 488.58,71.84 490.52,72.46 492.46,73.08 494.40,73.70 496.34,74.31 498.28,74.93 500.22,75.55 502.16,76.17 504.10,76.75 506.04,77.32 507.98,77.90 509.92,78.47 511.86,79.05 513.80,79.62 515.74,80.20 517.68,80.77 519.62,81.35 521.56,81.92 523.50,82.50" fill="none" stroke="#FF1F3D" stroke-width="0.85" stroke-linejoin="round"/>
<g fill="#FF1F3D">
<circle cx="310.10" cy="157.44" r="1.25"/>
<circle cx="312.04" cy="117.34" r="1.25"/>
<circle cx="313.98" cy="88.70" r="1.25"/>
<circle cx="315.92" cy="65.79" r="1.25"/>
<circle cx="317.86" cy="50.51" r="1.25"/>
<circle cx="319.80" cy="40.01" r="1.25"/>
<circle cx="321.74" cy="33.33" r="1.25"/>
<circle cx="323.68" cy="28.08" r="1.25"/>
<circle cx="325.62" cy="24.07" r="1.25"/>
<circle cx="327.56" cy="21.58" r="1.25"/>
<circle cx="329.50" cy="20.15" r="1.25"/>
<circle cx="331.44" cy="19.67" r="1.25"/>
<circle cx="333.38" cy="19.77" r="1.25"/>
<circle cx="335.32" cy="20.44" r="1.25"/>
<circle cx="337.26" cy="21.68" r="1.25"/>
<circle cx="339.20" cy="23.21" r="1.25"/>
<circle cx="341.14" cy="24.74" r="1.25"/>
<circle cx="343.08" cy="26.24" r="1.25"/>
<circle cx="345.02" cy="27.74" r="1.25"/>
<circle cx="346.96" cy="28.43" r="1.25"/>
<circle cx="348.90" cy="29.03" r="1.25"/>
<circle cx="350.84" cy="29.52" r="1.25"/>
<circle cx="352.78" cy="30.01" r="1.25"/>
<circle cx="354.72" cy="30.51" r="1.25"/>
<circle cx="356.66" cy="31.00" r="1.25"/>
<circle cx="358.60" cy="31.49" r="1.25"/>
<circle cx="360.54" cy="31.98" r="1.25"/>
<circle cx="362.48" cy="32.50" r="1.25"/>
<circle cx="364.42" cy="33.04" r="1.25"/>
<circle cx="366.36" cy="33.59" r="1.25"/>
<circle cx="368.30" cy="34.14" r="1.25"/>
<circle cx="370.24" cy="34.69" r="1.25"/>
<circle cx="372.18" cy="35.24" r="1.25"/>
<circle cx="374.12" cy="35.63" r="1.25"/>
<circle cx="376.06" cy="36.03" r="1.25"/>
<circle cx="378.00" cy="36.43" r="1.25"/>
<circle cx="379.94" cy="36.56" r="1.25"/>
<circle cx="381.88" cy="36.28" r="1.25"/>
<circle cx="383.82" cy="36.00" r="1.25"/>
<circle cx="385.76" cy="35.76" r="1.25"/>
<circle cx="387.70" cy="35.52" r="1.25"/>
<circle cx="389.64" cy="35.71" r="1.25"/>
<circle cx="391.58" cy="35.91" r="1.25"/>
<circle cx="393.52" cy="36.38" r="1.25"/>
<circle cx="395.46" cy="36.86" r="1.25"/>
<circle cx="397.40" cy="37.43" r="1.25"/>
<circle cx="399.34" cy="38.13" r="1.25"/>
<circle cx="401.28" cy="38.83" r="1.25"/>
<circle cx="403.22" cy="39.53" r="1.25"/>
<circle cx="405.16" cy="40.43" r="1.25"/>
<circle cx="407.10" cy="41.33" r="1.25"/>
<circle cx="409.04" cy="42.23" r="1.25"/>
<circle cx="410.98" cy="43.15" r="1.25"/>
<circle cx="412.92" cy="44.10" r="1.25"/>
<circle cx="414.86" cy="45.04" r="1.25"/>
<circle cx="416.80" cy="45.98" r="1.25"/>
<circle cx="418.74" cy="46.92" r="1.25"/>
<circle cx="420.68" cy="47.86" r="1.25"/>
<circle cx="422.62" cy="48.81" r="1.25"/>
<circle cx="424.56" cy="49.75" r="1.25"/>
<circle cx="426.50" cy="50.55" r="1.25"/>
<circle cx="428.44" cy="51.36" r="1.25"/>
<circle cx="430.38" cy="52.17" r="1.25"/>
<circle cx="432.32" cy="52.97" r="1.25"/>
<circle cx="434.26" cy="53.78" r="1.25"/>
<circle cx="436.20" cy="54.58" r="1.25"/>
<circle cx="438.14" cy="55.29" r="1.25"/>
<circle cx="440.08" cy="55.94" r="1.25"/>
<circle cx="442.02" cy="56.59" r="1.25"/>
<circle cx="443.96" cy="57.24" r="1.25"/>
<circle cx="445.90" cy="57.88" r="1.25"/>
<circle cx="447.84" cy="58.53" r="1.25"/>
<circle cx="449.78" cy="59.18" r="1.25"/>
<circle cx="451.72" cy="59.83" r="1.25"/>
<circle cx="453.66" cy="60.48" r="1.25"/>
<circle cx="455.60" cy="61.12" r="1.25"/>
<circle cx="457.54" cy="61.77" r="1.25"/>
<circle cx="459.48" cy="62.42" r="1.25"/>
<circle cx="461.42" cy="63.07" r="1.25"/>
<circle cx="463.36" cy="63.71" r="1.25"/>
<circle cx="465.30" cy="64.36" r="1.25"/>
<circle cx="467.24" cy="65.01" r="1.25"/>
<circle cx="469.18" cy="65.66" r="1.25"/>
<circle cx="471.12" cy="66.28" r="1.25"/>
<circle cx="473.06" cy="66.90" r="1.25"/>
<circle cx="475.00" cy="67.52" r="1.25"/>
<circle cx="476.94" cy="68.14" r="1.25"/>
<circle cx="478.88" cy="68.75" r="1.25"/>
<circle cx="480.82" cy="69.37" r="1.25"/>
<circle cx="482.76" cy="69.99" r="1.25"/>
<circle cx="484.70" cy="70.61" r="1.25"/>
<circle cx="486.64" cy="71.22" r="1.25"/>
<circle cx="488.58" cy="71.84" r="1.25"/>
<circle cx="490.52" cy="72.46" r="1.25"/>
<circle cx="492.46" cy="73.08" r="1.25"/>
<circle cx="494.40" cy="73.70" r="1.25"/>
<circle cx="496.34" cy="74.31" r="1.25"/>
<circle cx="498.28" cy="74.93" r="1.25"/>
<circle cx="500.22" cy="75.55" r="1.25"/>
<circle cx="502.16" cy="76.17" r="1.25"/>
<circle cx="504.10" cy="76.75" r="1.25"/>
<circle cx="506.04" cy="77.32" r="1.25"/>
<circle cx="507.98" cy="77.90" r="1.25"/>
<circle cx="509.92" cy="78.47" r="1.25"/>
<circle cx="511.86" cy="79.05" r="1.25"/>
<circle cx="513.80" cy="79.62" r="1.25"/>
<circle cx="515.74" cy="80.20" r="1.25"/>
<circle cx="517.68" cy="80.77" r="1.25"/>
<circle cx="519.62" cy="81.35" r="1.25"/>
<circle cx="521.56" cy="81.92" r="1.25"/>
<circle cx="523.50" cy="82.50" r="1.25"/>
</g>
<rect x="310.10" y="7.55" width="213.40" height="171.85" fill="none" stroke="#222" stroke-width="1.25"/>
<path d="M310.10 179.40v3.4M310.10 7.55v3M319.80 179.40v1.6M319.80 7.55v1.6M329.50 179.40v3.4M329.50 7.55v3M339.20 179.40v1.6M339.20 7.55v1.6M348.90 179.40v3.4M348.90 7.55v3M358.60 179.40v1.6M358.60 7.55v1.6M368.30 179.40v3.4M368.30 7.55v3M378.00 179.40v1.6M378.00 7.55v1.6M387.70 179.40v3.4M387.70 7.55v3M397.40 179.40v1.6M397.40 7.55v1.6M407.10 179.40v3.4M407.10 7.55v3M416.80 179.40v1.6M416.80 7.55v1.6M426.50 179.40v3.4M426.50 7.55v3M436.20 179.40v1.6M436.20 7.55v1.6M445.90 179.40v3.4M445.90 7.55v3M455.60 179.40v1.6M455.60 7.55v1.6M465.30 179.40v3.4M465.30 7.55v3M475.00 179.40v1.6M475.00 7.55v1.6M484.70 179.40v3.4M484.70 7.55v3M494.40 179.40v1.6M494.40 7.55v1.6M504.10 179.40v3.4M504.10 7.55v3M513.80 179.40v1.6M513.80 7.55v1.6M523.50 179.40v3.4M523.50 7.55v3M310.10 179.40h-3.4M310.10 169.85h-1.6M310.10 160.31h-3.4M310.10 150.76h-1.6M310.10 141.21h-3.4M310.10 131.66h-1.6M310.10 122.12h-3.4M310.10 112.57h-1.6M310.10 103.02h-3.4M310.10 93.48h-1.6M310.10 83.93h-3.4M310.10 74.38h-1.6M310.10 64.83h-3.4M310.10 55.29h-1.6M310.10 45.74h-3.4M310.10 36.19h-1.6M310.10 26.64h-3.4M310.10 17.10h-1.6M310.10 7.55h-3.4M523.50 179.40h-3M523.50 169.85h-1.6M523.50 160.31h-3M523.50 150.76h-1.6M523.50 141.21h-3M523.50 131.66h-1.6M523.50 122.12h-3M523.50 112.57h-1.6M523.50 103.02h-3M523.50 93.48h-1.6M523.50 83.93h-3M523.50 74.38h-1.6M523.50 64.83h-3M523.50 55.29h-1.6M523.50 45.74h-3M523.50 36.19h-1.6M523.50 26.64h-3M523.50 17.10h-1.6M523.50 7.55h-3" stroke="#222" stroke-width="1" fill="none"/>
<g class="tl" text-anchor="middle">
<text x="310.10" y="192.40">0</text>
<text x="329.50" y="192.40">5</text>
<text x="348.90" y="192.40">10</text>
<text x="368.30" y="192.40">15</text>
<text x="387.70" y="192.40">20</text>
<text x="407.10" y="192.40">25</text>
<text x="426.50" y="192.40">30</text>
<text x="445.90" y="192.40">35</text>
<text x="465.30" y="192.40">40</text>
<text x="484.70" y="192.40">45</text>
<text x="504.10" y="192.40">50</text>
<text x="523.50" y="192.40">55</text>
</g>
<g class="tl" text-anchor="end">
<text x="304.50" y="182.40">10</text>
<text x="304.50" y="163.31">12</text>
<text x="304.50" y="144.21">14</text>
<text x="304.50" y="125.12">16</text>
<text x="304.50" y="106.02">18</text>
<text x="304.50" y="86.93">20</text>
<text x="304.50" y="67.83">22</text>
<text x="304.50" y="48.74">24</text>
<text x="304.50" y="29.64">26</text>
<text x="304.50" y="10.55">28</text>
</g>
<g class="tl" text-anchor="start">
<text x="527.10" y="182.40">0</text>
<text x="527.10" y="163.31">1</text>
<text x="527.10" y="144.21">2</text>
<text x="527.10" y="125.12">3</text>
<text x="527.10" y="106.02">4</text>
<text x="527.10" y="86.93">5</text>
<text x="527.10" y="67.83">6</text>
<text x="527.10" y="48.74">7</text>
<text x="527.10" y="29.64">8</text>
<text x="527.10" y="10.55">9</text>
</g>
<text class="ti" text-anchor="middle" transform="translate(290.90 92.88) rotate(-90)">Temperature (<tspan class="sup" dy="-3.2">o</tspan><tspan dy="3.2">C)</tspan></text>
<text class="ti" text-anchor="middle" transform="translate(542.90 92.98) rotate(-90)">Absolute error (<tspan class="sup" dy="-3.2">o</tspan><tspan dy="3.2">C)</tspan></text>
<text class="ti" text-anchor="middle" x="416.90" y="209.20">Age (d)</text>
<text class="cap" text-anchor="middle" x="414.00" y="225.30">(d)</text>
<rect x="440.50" y="118.70" width="76.00" height="33.30" fill="#bbb"/>
<rect x="439.50" y="117.70" width="76.00" height="33.30" fill="#fff" stroke="#888" stroke-width="0.7"/>
<path d="M440.80 123.70H460.30" stroke="#2A48B8" stroke-width="0.8"/><circle cx="450.55" cy="123.70" r="1.15" fill="#2A48B8"/>
<path d="M440.80 134.50H460.30" stroke="#FF1F3D" stroke-width="0.8"/><circle cx="450.55" cy="134.50" r="1.15" fill="#FF1F3D"/>
<rect x="440.80" y="140.90" width="19.50" height="9.3" fill="#4ECB9B" stroke="#1F6B4B" stroke-width="0.6"/>
<g class="lg"><text x="463.20" y="126.60">Monitored</text><text x="463.20" y="137.40">Calculated</text><text x="463.20" y="148.40">Absolute error</text></g>
</g>
<g class="chart" id="chart-e">
<g fill="#52D6A2" stroke="#2F7A5C" stroke-width="1.0">
<rect x="28.50" y="381.92" width="1.06" height="24.53"/>
<rect x="29.56" y="381.26" width="2.65" height="25.19"/>
<rect x="32.21" y="380.17" width="2.65" height="26.28"/>
<rect x="34.86" y="377.98" width="2.65" height="28.47"/>
<rect x="37.51" y="379.73" width="2.65" height="26.72"/>
<rect x="40.16" y="384.99" width="2.65" height="21.46"/>
<rect x="42.81" y="390.02" width="2.65" height="16.43"/>
<rect x="45.46" y="396.16" width="2.65" height="10.29"/>
<rect x="48.11" y="400.97" width="2.65" height="5.48"/>
<rect x="50.76" y="404.26" width="2.65" height="2.19"/>
<rect x="53.41" y="405.79" width="2.65" height="0.66"/>
<rect x="56.06" y="401.63" width="2.65" height="4.82"/>
<rect x="58.71" y="398.13" width="2.65" height="8.32"/>
<rect x="61.36" y="393.75" width="2.65" height="12.70"/>
<rect x="64.01" y="391.12" width="2.65" height="15.33"/>
<rect x="66.66" y="388.49" width="2.65" height="17.96"/>
<rect x="69.31" y="386.30" width="2.65" height="20.15"/>
<rect x="71.96" y="387.18" width="2.65" height="19.27"/>
<rect x="74.61" y="388.93" width="2.65" height="17.52"/>
<rect x="77.26" y="391.12" width="2.65" height="15.33"/>
<rect x="79.91" y="393.31" width="2.65" height="13.14"/>
<rect x="82.56" y="394.40" width="2.65" height="12.05"/>
<rect x="85.21" y="395.94" width="2.65" height="10.51"/>
<rect x="87.86" y="396.59" width="2.65" height="9.86"/>
<rect x="90.51" y="397.69" width="2.65" height="8.76"/>
<rect x="93.16" y="403.16" width="2.65" height="3.29"/>
<rect x="95.81" y="405.79" width="2.65" height="0.66"/>
<rect x="98.46" y="404.70" width="2.65" height="1.75"/>
<rect x="101.11" y="404.26" width="2.65" height="2.19"/>
<rect x="103.76" y="404.70" width="2.65" height="1.75"/>
<rect x="106.41" y="405.14" width="2.65" height="1.31"/>
<rect x="109.06" y="404.70" width="2.65" height="1.75"/>
<rect x="111.71" y="404.26" width="2.65" height="2.19"/>
<rect x="114.36" y="403.38" width="2.65" height="3.07"/>
<rect x="117.01" y="402.95" width="2.65" height="3.50"/>
<rect x="119.66" y="402.51" width="2.65" height="3.94"/>
<rect x="122.31" y="402.07" width="2.65" height="4.38"/>
<rect x="124.96" y="403.16" width="2.65" height="3.29"/>
<rect x="127.61" y="404.70" width="2.65" height="1.75"/>
<rect x="130.26" y="403.38" width="2.65" height="3.07"/>
<rect x="132.91" y="402.73" width="2.65" height="3.72"/>
<rect x="135.56" y="402.51" width="2.65" height="3.94"/>
<rect x="138.21" y="402.95" width="2.65" height="3.50"/>
<rect x="140.86" y="404.04" width="2.65" height="2.41"/>
<rect x="143.51" y="405.14" width="2.65" height="1.31"/>
<rect x="146.16" y="403.16" width="2.65" height="3.29"/>
<rect x="148.81" y="402.07" width="2.65" height="4.38"/>
<rect x="151.46" y="401.19" width="2.65" height="5.26"/>
<rect x="154.11" y="401.19" width="2.65" height="5.26"/>
<rect x="156.76" y="402.07" width="2.65" height="4.38"/>
<rect x="159.41" y="403.16" width="2.65" height="3.29"/>
<rect x="162.06" y="404.26" width="2.65" height="2.19"/>
<rect x="164.71" y="405.35" width="2.65" height="1.10"/>
<rect x="167.36" y="404.70" width="2.65" height="1.75"/>
<rect x="170.01" y="404.70" width="2.65" height="1.75"/>
<rect x="172.66" y="405.79" width="2.65" height="0.66"/>
<rect x="175.31" y="404.70" width="2.65" height="1.75"/>
<rect x="177.96" y="403.82" width="2.65" height="2.63"/>
<rect x="180.61" y="402.95" width="2.65" height="3.50"/>
<rect x="183.26" y="404.26" width="2.65" height="2.19"/>
<rect x="185.91" y="405.35" width="2.65" height="1.10"/>
<rect x="188.56" y="403.16" width="2.65" height="3.29"/>
<rect x="191.21" y="400.97" width="2.65" height="5.48"/>
<rect x="193.86" y="402.07" width="2.65" height="4.38"/>
<rect x="196.51" y="402.51" width="2.65" height="3.94"/>
<rect x="199.16" y="402.07" width="2.65" height="4.38"/>
<rect x="201.81" y="400.97" width="2.65" height="5.48"/>
<rect x="204.46" y="400.32" width="2.65" height="6.13"/>
<rect x="207.11" y="399.88" width="2.65" height="6.57"/>
<rect x="209.76" y="399.44" width="2.65" height="7.01"/>
<rect x="212.41" y="399.22" width="2.65" height="7.23"/>
<rect x="215.06" y="398.78" width="2.65" height="7.67"/>
<rect x="217.71" y="398.13" width="2.65" height="8.32"/>
<rect x="220.36" y="397.25" width="2.65" height="9.20"/>
<rect x="223.01" y="395.94" width="2.65" height="10.51"/>
<rect x="225.66" y="396.59" width="2.65" height="9.86"/>
<rect x="228.31" y="397.25" width="2.65" height="9.20"/>
<rect x="230.96" y="397.69" width="2.65" height="8.76"/>
<rect x="233.61" y="398.13" width="2.65" height="8.32"/>
<rect x="236.26" y="398.13" width="2.65" height="8.32"/>
<rect x="238.91" y="397.69" width="1.59" height="8.76"/>
</g>
<polyline points="28.50,374.81 31.15,329.48 33.80,302.11 36.45,281.58 39.10,268.33 41.75,260.03 44.40,254.22 47.05,250.79 49.70,248.66 52.35,247.37 55.00,247.54 57.65,248.49 60.30,249.68 62.95,251.22 65.60,252.93 68.25,255.07 70.90,256.61 73.55,256.78 76.20,256.78 78.85,256.78 81.50,256.95 84.15,257.21 86.80,257.64 89.45,258.06 92.10,258.32 94.75,257.64 97.40,256.95 100.05,259.35 102.70,260.20 105.35,260.68 108.00,261.15 110.65,261.63 113.30,262.27 115.95,263.16 118.60,264.05 121.25,264.96 123.90,265.61 126.55,265.68 129.20,265.75 131.85,266.82 134.50,268.13 137.15,269.23 139.80,269.75 142.45,269.90 145.10,270.04 147.75,271.93 150.40,273.81 153.05,274.88 155.70,275.38 158.35,275.89 161.00,276.40 163.65,277.02 166.30,277.80 168.95,278.58 171.60,279.36 174.25,279.15 176.90,278.93 179.55,279.40 182.20,279.87 184.85,281.37 187.50,282.87 190.15,282.63 192.80,282.68 195.45,283.88 198.10,284.94 200.75,285.47 203.40,286.01 206.05,286.54 208.70,287.07 211.35,287.60 214.00,288.13 216.65,288.66 219.30,288.97 221.95,289.22 224.60,289.79 227.25,290.84 229.90,291.89 232.55,292.77 235.20,293.60 237.85,294.43 240.50,295.27" fill="none" stroke="#2A48B8" stroke-width="0.85" stroke-linejoin="round"/>
<g fill="#2A48B8">
<circle cx="28.50" cy="374.81" r="1.25"/>
<circle cx="31.15" cy="329.48" r="1.25"/>
<circle cx="33.80" cy="302.11" r="1.25"/>
<circle cx="36.45" cy="281.58" r="1.25"/>
<circle cx="39.10" cy="268.33" r="1.25"/>
<circle cx="41.75" cy="260.03" r="1.25"/>
<circle cx="44.40" cy="254.22" r="1.25"/>
<circle cx="47.05" cy="250.79" r="1.25"/>
<circle cx="49.70" cy="248.66" r="1.25"/>
<circle cx="52.35" cy="247.37" r="1.25"/>
<circle cx="55.00" cy="247.54" r="1.25"/>
<circle cx="57.65" cy="248.49" r="1.25"/>
<circle cx="60.30" cy="249.68" r="1.25"/>
<circle cx="62.95" cy="251.22" r="1.25"/>
<circle cx="65.60" cy="252.93" r="1.25"/>
<circle cx="68.25" cy="255.07" r="1.25"/>
<circle cx="70.90" cy="256.61" r="1.25"/>
<circle cx="73.55" cy="256.78" r="1.25"/>
<circle cx="76.20" cy="256.78" r="1.25"/>
<circle cx="78.85" cy="256.78" r="1.25"/>
<circle cx="81.50" cy="256.95" r="1.25"/>
<circle cx="84.15" cy="257.21" r="1.25"/>
<circle cx="86.80" cy="257.64" r="1.25"/>
<circle cx="89.45" cy="258.06" r="1.25"/>
<circle cx="92.10" cy="258.32" r="1.25"/>
<circle cx="94.75" cy="257.64" r="1.25"/>
<circle cx="97.40" cy="256.95" r="1.25"/>
<circle cx="100.05" cy="259.35" r="1.25"/>
<circle cx="102.70" cy="260.20" r="1.25"/>
<circle cx="105.35" cy="260.68" r="1.25"/>
<circle cx="108.00" cy="261.15" r="1.25"/>
<circle cx="110.65" cy="261.63" r="1.25"/>
<circle cx="113.30" cy="262.27" r="1.25"/>
<circle cx="115.95" cy="263.16" r="1.25"/>
<circle cx="118.60" cy="264.05" r="1.25"/>
<circle cx="121.25" cy="264.96" r="1.25"/>
<circle cx="123.90" cy="265.61" r="1.25"/>
<circle cx="126.55" cy="265.68" r="1.25"/>
<circle cx="129.20" cy="265.75" r="1.25"/>
<circle cx="131.85" cy="266.82" r="1.25"/>
<circle cx="134.50" cy="268.13" r="1.25"/>
<circle cx="137.15" cy="269.23" r="1.25"/>
<circle cx="139.80" cy="269.75" r="1.25"/>
<circle cx="142.45" cy="269.90" r="1.25"/>
<circle cx="145.10" cy="270.04" r="1.25"/>
<circle cx="147.75" cy="271.93" r="1.25"/>
<circle cx="150.40" cy="273.81" r="1.25"/>
<circle cx="153.05" cy="274.88" r="1.25"/>
<circle cx="155.70" cy="275.38" r="1.25"/>
<circle cx="158.35" cy="275.89" r="1.25"/>
<circle cx="161.00" cy="276.40" r="1.25"/>
<circle cx="163.65" cy="277.02" r="1.25"/>
<circle cx="166.30" cy="277.80" r="1.25"/>
<circle cx="168.95" cy="278.58" r="1.25"/>
<circle cx="171.60" cy="279.36" r="1.25"/>
<circle cx="174.25" cy="279.15" r="1.25"/>
<circle cx="176.90" cy="278.93" r="1.25"/>
<circle cx="179.55" cy="279.40" r="1.25"/>
<circle cx="182.20" cy="279.87" r="1.25"/>
<circle cx="184.85" cy="281.37" r="1.25"/>
<circle cx="187.50" cy="282.87" r="1.25"/>
<circle cx="190.15" cy="282.63" r="1.25"/>
<circle cx="192.80" cy="282.68" r="1.25"/>
<circle cx="195.45" cy="283.88" r="1.25"/>
<circle cx="198.10" cy="284.94" r="1.25"/>
<circle cx="200.75" cy="285.47" r="1.25"/>
<circle cx="203.40" cy="286.01" r="1.25"/>
<circle cx="206.05" cy="286.54" r="1.25"/>
<circle cx="208.70" cy="287.07" r="1.25"/>
<circle cx="211.35" cy="287.60" r="1.25"/>
<circle cx="214.00" cy="288.13" r="1.25"/>
<circle cx="216.65" cy="288.66" r="1.25"/>
<circle cx="219.30" cy="288.97" r="1.25"/>
<circle cx="221.95" cy="289.22" r="1.25"/>
<circle cx="224.60" cy="289.79" r="1.25"/>
<circle cx="227.25" cy="290.84" r="1.25"/>
<circle cx="229.90" cy="291.89" r="1.25"/>
<circle cx="232.55" cy="292.77" r="1.25"/>
<circle cx="235.20" cy="293.60" r="1.25"/>
<circle cx="237.85" cy="294.43" r="1.25"/>
<circle cx="240.50" cy="295.27" r="1.25"/>
</g>
<polyline points="28.50,378.23 31.15,342.31 33.80,314.22 36.45,294.02 39.10,279.45 41.75,269.39 44.40,262.08 47.05,256.50 49.70,252.08 52.35,249.20 55.00,246.95 57.65,245.55 60.30,244.72 62.95,244.45 65.60,244.64 68.25,245.18 70.90,246.01 73.55,246.86 76.20,247.80 78.85,248.87 81.50,249.94 84.15,251.04 86.80,252.26 89.45,253.47 92.10,254.81 94.75,256.24 97.40,257.67 100.05,259.09 102.70,259.65 105.35,260.20 108.00,260.60 110.65,260.99 113.30,261.50 115.95,262.19 118.60,262.88 121.25,263.57 123.90,264.28 126.55,265.03 129.20,265.78 131.85,266.53 134.50,267.28 137.15,268.00 139.80,268.73 142.45,269.46 145.10,270.22 147.75,271.13 150.40,272.04 153.05,272.95 155.70,273.86 158.35,274.77 161.00,275.68 163.65,276.59 166.30,277.50 168.95,278.41 171.60,279.32 174.25,280.21 176.90,281.02 179.55,281.83 182.20,282.65 184.85,283.46 187.50,284.27 190.15,285.09 192.80,285.90 195.45,286.72 198.10,287.50 200.75,288.28 203.40,289.06 206.05,289.84 208.70,290.63 211.35,291.41 214.00,292.19 216.65,292.97 219.30,293.67 221.95,294.35 224.60,295.03 227.25,295.71 229.90,296.39 232.55,297.08 235.20,297.76 237.85,298.44 240.50,299.12" fill="none" stroke="#FF1F3D" stroke-width="0.85" stroke-linejoin="round"/>
<g fill="#FF1F3D">
<circle cx="28.50" cy="378.23" r="1.25"/>
<circle cx="31.15" cy="342.31" r="1.25"/>
<circle cx="33.80" cy="314.22" r="1.25"/>
<circle cx="36.45" cy="294.02" r="1.25"/>
<circle cx="39.10" cy="279.45" r="1.25"/>
<circle cx="41.75" cy="269.39" r="1.25"/>
<circle cx="44.40" cy="262.08" r="1.25"/>
<circle cx="47.05" cy="256.50" r="1.25"/>
<circle cx="49.70" cy="252.08" r="1.25"/>
<circle cx="52.35" cy="249.20" r="1.25"/>
<circle cx="55.00" cy="246.95" r="1.25"/>
<circle cx="57.65" cy="245.55" r="1.25"/>
<circle cx="60.30" cy="244.72" r="1.25"/>
<circle cx="62.95" cy="244.45" r="1.25"/>
<circle cx="65.60" cy="244.64" r="1.25"/>
<circle cx="68.25" cy="245.18" r="1.25"/>
<circle cx="70.90" cy="246.01" r="1.25"/>
<circle cx="73.55" cy="246.86" r="1.25"/>
<circle cx="76.20" cy="247.80" r="1.25"/>
<circle cx="78.85" cy="248.87" r="1.25"/>
<circle cx="81.50" cy="249.94" r="1.25"/>
<circle cx="84.15" cy="251.04" r="1.25"/>
<circle cx="86.80" cy="252.26" r="1.25"/>
<circle cx="89.45" cy="253.47" r="1.25"/>
<circle cx="92.10" cy="254.81" r="1.25"/>
<circle cx="94.75" cy="256.24" r="1.25"/>
<circle cx="97.40" cy="257.67" r="1.25"/>
<circle cx="100.05" cy="259.09" r="1.25"/>
<circle cx="102.70" cy="259.65" r="1.25"/>
<circle cx="105.35" cy="260.20" r="1.25"/>
<circle cx="108.00" cy="260.60" r="1.25"/>
<circle cx="110.65" cy="260.99" r="1.25"/>
<circle cx="113.30" cy="261.50" r="1.25"/>
<circle cx="115.95" cy="262.19" r="1.25"/>
<circle cx="118.60" cy="262.88" r="1.25"/>
<circle cx="121.25" cy="263.57" r="1.25"/>
<circle cx="123.90" cy="264.28" r="1.25"/>
<circle cx="126.55" cy="265.03" r="1.25"/>
<circle cx="129.20" cy="265.78" r="1.25"/>
<circle cx="131.85" cy="266.53" r="1.25"/>
<circle cx="134.50" cy="267.28" r="1.25"/>
<circle cx="137.15" cy="268.00" r="1.25"/>
<circle cx="139.80" cy="268.73" r="1.25"/>
<circle cx="142.45" cy="269.46" r="1.25"/>
<circle cx="145.10" cy="270.22" r="1.25"/>
<circle cx="147.75" cy="271.13" r="1.25"/>
<circle cx="150.40" cy="272.04" r="1.25"/>
<circle cx="153.05" cy="272.95" r="1.25"/>
<circle cx="155.70" cy="273.86" r="1.25"/>
<circle cx="158.35" cy="274.77" r="1.25"/>
<circle cx="161.00" cy="275.68" r="1.25"/>
<circle cx="163.65" cy="276.59" r="1.25"/>
<circle cx="166.30" cy="277.50" r="1.25"/>
<circle cx="168.95" cy="278.41" r="1.25"/>
<circle cx="171.60" cy="279.32" r="1.25"/>
<circle cx="174.25" cy="280.21" r="1.25"/>
<circle cx="176.90" cy="281.02" r="1.25"/>
<circle cx="179.55" cy="281.83" r="1.25"/>
<circle cx="182.20" cy="282.65" r="1.25"/>
<circle cx="184.85" cy="283.46" r="1.25"/>
<circle cx="187.50" cy="284.27" r="1.25"/>
<circle cx="190.15" cy="285.09" r="1.25"/>
<circle cx="192.80" cy="285.90" r="1.25"/>
<circle cx="195.45" cy="286.72" r="1.25"/>
<circle cx="198.10" cy="287.50" r="1.25"/>
<circle cx="200.75" cy="288.28" r="1.25"/>
<circle cx="203.40" cy="289.06" r="1.25"/>
<circle cx="206.05" cy="289.84" r="1.25"/>
<circle cx="208.70" cy="290.63" r="1.25"/>
<circle cx="211.35" cy="291.41" r="1.25"/>
<circle cx="214.00" cy="292.19" r="1.25"/>
<circle cx="216.65" cy="292.97" r="1.25"/>
<circle cx="219.30" cy="293.67" r="1.25"/>
<circle cx="221.95" cy="294.35" r="1.25"/>
<circle cx="224.60" cy="295.03" r="1.25"/>
<circle cx="227.25" cy="295.71" r="1.25"/>
<circle cx="229.90" cy="296.39" r="1.25"/>
<circle cx="232.55" cy="297.08" r="1.25"/>
<circle cx="235.20" cy="297.76" r="1.25"/>
<circle cx="237.85" cy="298.44" r="1.25"/>
<circle cx="240.50" cy="299.12" r="1.25"/>
</g>
<rect x="28.50" y="235.40" width="212.00" height="171.05" fill="none" stroke="#222" stroke-width="1.25"/>
<path d="M28.50 406.45v3.4M28.50 235.40v3M41.75 406.45v1.6M41.75 235.40v1.6M55.00 406.45v3.4M55.00 235.40v3M68.25 406.45v1.6M68.25 235.40v1.6M81.50 406.45v3.4M81.50 235.40v3M94.75 406.45v1.6M94.75 235.40v1.6M108.00 406.45v3.4M108.00 235.40v3M121.25 406.45v1.6M121.25 235.40v1.6M134.50 406.45v3.4M134.50 235.40v3M147.75 406.45v1.6M147.75 235.40v1.6M161.00 406.45v3.4M161.00 235.40v3M174.25 406.45v1.6M174.25 235.40v1.6M187.50 406.45v3.4M187.50 235.40v3M200.75 406.45v1.6M200.75 235.40v1.6M214.00 406.45v3.4M214.00 235.40v3M227.25 406.45v1.6M227.25 235.40v1.6M240.50 406.45v3.4M240.50 235.40v3M28.50 406.45h-3.4M28.50 397.90h-1.6M28.50 389.34h-3.4M28.50 380.79h-1.6M28.50 372.24h-3.4M28.50 363.69h-1.6M28.50 355.13h-3.4M28.50 346.58h-1.6M28.50 338.03h-3.4M28.50 329.48h-1.6M28.50 320.93h-3.4M28.50 312.37h-1.6M28.50 303.82h-3.4M28.50 295.27h-1.6M28.50 286.72h-3.4M28.50 278.16h-1.6M28.50 269.61h-3.4M28.50 261.06h-1.6M28.50 252.50h-3.4M28.50 243.95h-1.6M28.50 235.40h-3.4M240.50 406.45h-3M240.50 397.90h-1.6M240.50 389.34h-3M240.50 380.79h-1.6M240.50 372.24h-3M240.50 363.69h-1.6M240.50 355.13h-3M240.50 346.58h-1.6M240.50 338.03h-3M240.50 329.48h-1.6M240.50 320.93h-3M240.50 312.37h-1.6M240.50 303.82h-3M240.50 295.27h-1.6M240.50 286.72h-3M240.50 278.16h-1.6M240.50 269.61h-3M240.50 261.06h-1.6M240.50 252.50h-3M240.50 243.95h-1.6M240.50 235.40h-3" stroke="#222" stroke-width="1" fill="none"/>
<g class="tl" text-anchor="middle">
<text x="28.50" y="419.45">0</text>
<text x="55.00" y="419.45">5</text>
<text x="81.50" y="419.45">10</text>
<text x="108.00" y="419.45">15</text>
<text x="134.50" y="419.45">20</text>
<text x="161.00" y="419.45">25</text>
<text x="187.50" y="419.45">30</text>
<text x="214.00" y="419.45">35</text>
<text x="240.50" y="419.45">40</text>
</g>
<g class="tl" text-anchor="end">
<text x="22.90" y="409.45">8</text>
<text x="22.90" y="392.34">10</text>
<text x="22.90" y="375.24">12</text>
<text x="22.90" y="358.13">14</text>
<text x="22.90" y="341.03">16</text>
<text x="22.90" y="323.93">18</text>
<text x="22.90" y="306.82">20</text>
<text x="22.90" y="289.72">22</text>
<text x="22.90" y="272.61">24</text>
<text x="22.90" y="255.50">26</text>
<text x="22.90" y="238.40">28</text>
</g>
<g class="tl" text-anchor="start">
<text x="244.10" y="409.45">0</text>
<text x="244.10" y="392.34">1</text>
<text x="244.10" y="375.24">2</text>
<text x="244.10" y="358.13">3</text>
<text x="244.10" y="341.03">4</text>
<text x="244.10" y="323.93">5</text>
<text x="244.10" y="306.82">6</text>
<text x="244.10" y="289.72">7</text>
<text x="244.10" y="272.61">8</text>
<text x="244.10" y="255.50">9</text>
<text x="244.10" y="238.40">10</text>
</g>
<text class="ti" text-anchor="middle" transform="translate(10.70 320.32) rotate(-90)">Temperature (<tspan class="sup" dy="-3.2">o</tspan><tspan dy="3.2">C)</tspan></text>
<text class="ti" text-anchor="middle" transform="translate(262.80 320.43) rotate(-90)">Absolute error (<tspan class="sup" dy="-3.2">o</tspan><tspan dy="3.2">C)</tspan></text>
<text class="ti" text-anchor="middle" x="134.60" y="436.25">Age (d)</text>
<text class="cap" text-anchor="middle" x="134.20" y="452.85">(e)</text>
<rect x="157.30" y="346.30" width="76.90" height="33.50" fill="#bbb"/>
<rect x="156.30" y="345.30" width="76.90" height="33.50" fill="#fff" stroke="#888" stroke-width="0.7"/>
<path d="M157.60 351.30H177.10" stroke="#2A48B8" stroke-width="0.8"/><circle cx="167.35" cy="351.30" r="1.15" fill="#2A48B8"/>
<path d="M157.60 362.10H177.10" stroke="#FF1F3D" stroke-width="0.8"/><circle cx="167.35" cy="362.10" r="1.15" fill="#FF1F3D"/>
<rect x="157.60" y="368.50" width="19.50" height="9.3" fill="#4ECB9B" stroke="#1F6B4B" stroke-width="0.6"/>
<g class="lg"><text x="180.00" y="354.20">Monitored</text><text x="180.00" y="365.00">Calculated</text><text x="180.00" y="376.00">Absolute error</text></g>
</g>
<g class="chart" id="chart-f">
<g fill="#52D6A2" stroke="#2F7A5C" stroke-width="1.0">
<rect x="309.30" y="383.25" width="1.70" height="23.20"/>
<rect x="311.00" y="373.17" width="2.98" height="33.28"/>
<rect x="313.98" y="375.45" width="2.98" height="31.00"/>
<rect x="316.95" y="379.26" width="2.98" height="27.19"/>
<rect x="319.93" y="385.34" width="2.98" height="21.11"/>
<rect x="322.91" y="389.33" width="2.98" height="17.12"/>
<rect x="325.88" y="393.33" width="2.98" height="13.12"/>
<rect x="328.86" y="395.80" width="2.98" height="10.65"/>
<rect x="331.84" y="399.22" width="2.98" height="7.23"/>
<rect x="334.81" y="400.75" width="2.98" height="5.70"/>
<rect x="337.79" y="402.46" width="2.98" height="3.99"/>
<rect x="340.76" y="402.46" width="2.98" height="3.99"/>
<rect x="343.74" y="404.74" width="2.98" height="1.71"/>
<rect x="346.72" y="405.02" width="2.98" height="1.43"/>
<rect x="349.69" y="405.50" width="2.98" height="0.95"/>
<rect x="352.67" y="404.74" width="2.98" height="1.71"/>
<rect x="355.64" y="405.31" width="2.98" height="1.14"/>
<rect x="358.62" y="405.50" width="2.98" height="0.95"/>
<rect x="361.60" y="405.02" width="2.98" height="1.43"/>
<rect x="364.57" y="404.93" width="2.98" height="1.52"/>
<rect x="367.55" y="404.93" width="2.98" height="1.52"/>
<rect x="370.53" y="404.93" width="2.98" height="1.52"/>
<rect x="373.50" y="404.55" width="2.98" height="1.90"/>
<rect x="376.48" y="402.27" width="2.98" height="4.18"/>
<rect x="379.45" y="403.98" width="2.98" height="2.47"/>
<rect x="382.43" y="404.93" width="2.98" height="1.52"/>
<rect x="385.41" y="404.55" width="2.98" height="1.90"/>
<rect x="388.38" y="404.36" width="2.98" height="2.09"/>
<rect x="391.36" y="405.69" width="2.98" height="0.76"/>
<rect x="394.33" y="404.36" width="2.98" height="2.09"/>
<rect x="397.31" y="405.88" width="2.98" height="0.57"/>
<rect x="400.29" y="405.69" width="2.98" height="0.76"/>
<rect x="403.26" y="405.50" width="2.98" height="0.95"/>
<rect x="406.24" y="404.36" width="2.98" height="2.09"/>
<rect x="409.22" y="402.08" width="2.98" height="4.37"/>
<rect x="412.19" y="400.94" width="2.98" height="5.51"/>
<rect x="415.17" y="400.94" width="2.98" height="5.51"/>
<rect x="418.14" y="403.79" width="2.98" height="2.66"/>
<rect x="421.12" y="406.07" width="2.98" height="0.38"/>
<rect x="424.10" y="405.69" width="2.98" height="0.76"/>
<rect x="427.07" y="406.07" width="2.98" height="0.38"/>
<rect x="430.05" y="406.07" width="2.98" height="0.38"/>
<rect x="433.02" y="405.88" width="2.98" height="0.57"/>
<rect x="436.00" y="405.12" width="2.98" height="1.33"/>
<rect x="438.98" y="404.83" width="2.98" height="1.62"/>
<rect x="441.95" y="405.50" width="2.98" height="0.95"/>
<rect x="444.93" y="406.07" width="2.98" height="0.38"/>
<rect x="447.91" y="406.07" width="2.98" height="0.38"/>
<rect x="450.88" y="405.69" width="2.98" height="0.76"/>
<rect x="453.86" y="404.93" width="2.98" height="1.52"/>
<rect x="456.83" y="403.98" width="2.98" height="2.47"/>
<rect x="459.81" y="403.41" width="2.98" height="3.04"/>
<rect x="462.79" y="402.65" width="2.98" height="3.80"/>
<rect x="465.76" y="403.98" width="2.98" height="2.47"/>
<rect x="468.74" y="404.17" width="2.98" height="2.28"/>
<rect x="471.72" y="403.03" width="2.98" height="3.42"/>
<rect x="474.69" y="400.75" width="2.98" height="5.70"/>
<rect x="477.67" y="397.70" width="2.98" height="8.75"/>
<rect x="480.64" y="395.42" width="2.98" height="11.03"/>
<rect x="483.62" y="396.56" width="2.98" height="9.89"/>
<rect x="486.60" y="396.56" width="2.98" height="9.89"/>
<rect x="489.57" y="394.85" width="2.98" height="11.60"/>
<rect x="492.55" y="393.14" width="2.98" height="13.31"/>
</g>
<polyline points="309.30,381.73 312.34,331.52 315.38,297.58 318.42,276.85 321.46,263.85 324.50,256.41 327.54,250.76 330.58,246.90 333.62,245.00 336.66,244.21 339.70,244.24 342.74,245.09 345.78,245.85 348.82,247.53 351.86,249.09 354.90,251.13 357.94,251.75 360.98,251.61 364.02,251.46 367.06,251.56 370.10,251.65 373.14,252.00 376.18,252.35 379.22,251.36 382.26,250.04 385.30,251.25 388.34,252.24 391.38,252.33 394.42,252.42 397.46,253.61 400.50,254.81 403.54,254.98 406.58,254.98 409.62,257.17 412.66,259.36 415.70,260.36 418.74,261.05 421.78,260.50 424.82,259.17 427.86,260.21 430.90,261.26 433.94,262.31 436.98,263.42 440.02,265.10 443.06,266.77 446.10,267.65 449.14,268.52 452.18,269.40 455.22,270.27 458.26,271.15 461.30,271.69 464.34,272.23 467.38,273.02 470.42,274.79 473.46,276.57 476.50,276.81 479.54,277.01 482.58,276.64 485.62,276.85 488.66,278.44 491.70,279.38 494.74,279.68 497.78,279.99" fill="none" stroke="#2A48B8" stroke-width="0.85" stroke-linejoin="round"/>
<g fill="#2A48B8">
<circle cx="309.30" cy="381.73" r="1.25"/>
<circle cx="312.34" cy="331.52" r="1.25"/>
<circle cx="315.38" cy="297.58" r="1.25"/>
<circle cx="318.42" cy="276.85" r="1.25"/>
<circle cx="321.46" cy="263.85" r="1.25"/>
<circle cx="324.50" cy="256.41" r="1.25"/>
<circle cx="327.54" cy="250.76" r="1.25"/>
<circle cx="330.58" cy="246.90" r="1.25"/>
<circle cx="333.62" cy="245.00" r="1.25"/>
<circle cx="336.66" cy="244.21" r="1.25"/>
<circle cx="339.70" cy="244.24" r="1.25"/>
<circle cx="342.74" cy="245.09" r="1.25"/>
<circle cx="345.78" cy="245.85" r="1.25"/>
<circle cx="348.82" cy="247.53" r="1.25"/>
<circle cx="351.86" cy="249.09" r="1.25"/>
<circle cx="354.90" cy="251.13" r="1.25"/>
<circle cx="357.94" cy="251.75" r="1.25"/>
<circle cx="360.98" cy="251.61" r="1.25"/>
<circle cx="364.02" cy="251.46" r="1.25"/>
<circle cx="367.06" cy="251.56" r="1.25"/>
<circle cx="370.10" cy="251.65" r="1.25"/>
<circle cx="373.14" cy="252.00" r="1.25"/>
<circle cx="376.18" cy="252.35" r="1.25"/>
<circle cx="379.22" cy="251.36" r="1.25"/>
<circle cx="382.26" cy="250.04" r="1.25"/>
<circle cx="385.30" cy="251.25" r="1.25"/>
<circle cx="388.34" cy="252.24" r="1.25"/>
<circle cx="391.38" cy="252.33" r="1.25"/>
<circle cx="394.42" cy="252.42" r="1.25"/>
<circle cx="397.46" cy="253.61" r="1.25"/>
<circle cx="400.50" cy="254.81" r="1.25"/>
<circle cx="403.54" cy="254.98" r="1.25"/>
<circle cx="406.58" cy="254.98" r="1.25"/>
<circle cx="409.62" cy="257.17" r="1.25"/>
<circle cx="412.66" cy="259.36" r="1.25"/>
<circle cx="415.70" cy="260.36" r="1.25"/>
<circle cx="418.74" cy="261.05" r="1.25"/>
<circle cx="421.78" cy="260.50" r="1.25"/>
<circle cx="424.82" cy="259.17" r="1.25"/>
<circle cx="427.86" cy="260.21" r="1.25"/>
<circle cx="430.90" cy="261.26" r="1.25"/>
<circle cx="433.94" cy="262.31" r="1.25"/>
<circle cx="436.98" cy="263.42" r="1.25"/>
<circle cx="440.02" cy="265.10" r="1.25"/>
<circle cx="443.06" cy="266.77" r="1.25"/>
<circle cx="446.10" cy="267.65" r="1.25"/>
<circle cx="449.14" cy="268.52" r="1.25"/>
<circle cx="452.18" cy="269.40" r="1.25"/>
<circle cx="455.22" cy="270.27" r="1.25"/>
<circle cx="458.26" cy="271.15" r="1.25"/>
<circle cx="461.30" cy="271.69" r="1.25"/>
<circle cx="464.34" cy="272.23" r="1.25"/>
<circle cx="467.38" cy="273.02" r="1.25"/>
<circle cx="470.42" cy="274.79" r="1.25"/>
<circle cx="473.46" cy="276.57" r="1.25"/>
<circle cx="476.50" cy="276.81" r="1.25"/>
<circle cx="479.54" cy="277.01" r="1.25"/>
<circle cx="482.58" cy="276.64" r="1.25"/>
<circle cx="485.62" cy="276.85" r="1.25"/>
<circle cx="488.66" cy="278.44" r="1.25"/>
<circle cx="491.70" cy="279.38" r="1.25"/>
<circle cx="494.74" cy="279.68" r="1.25"/>
<circle cx="497.78" cy="279.99" r="1.25"/>
</g>
<polyline points="309.30,383.63 312.34,344.65 315.38,314.69 318.42,293.30 321.46,277.01 324.50,267.06 327.54,258.77 330.58,253.84 333.62,250.21 336.66,248.05 339.70,247.00 342.74,247.00 345.78,247.38 348.82,248.70 351.86,249.56 354.90,250.64 357.94,251.08 360.98,251.08 364.02,251.08 367.06,251.08 370.10,251.08 373.14,251.35 376.18,251.61 379.22,251.87 382.26,252.13 385.30,252.44 388.34,252.75 391.38,253.06 394.42,253.37 397.46,254.12 400.50,254.88 403.54,255.25 406.58,255.55 409.62,256.36 412.66,257.17 415.70,257.75 418.74,258.35 421.78,259.04 424.82,259.74 427.86,260.64 430.90,261.54 433.94,262.44 436.98,263.37 440.02,264.54 443.06,265.70 446.10,266.87 449.14,268.03 452.18,269.20 455.22,270.36 458.26,271.53 461.30,272.74 464.34,273.96 467.38,275.17 470.42,276.39 473.46,277.60 476.50,278.82 479.54,280.03 482.58,281.22 485.62,282.40 488.66,283.58 491.70,284.76 494.74,285.94 497.78,287.12" fill="none" stroke="#FF1F3D" stroke-width="0.85" stroke-linejoin="round"/>
<g fill="#FF1F3D">
<circle cx="309.30" cy="383.63" r="1.25"/>
<circle cx="312.34" cy="344.65" r="1.25"/>
<circle cx="315.38" cy="314.69" r="1.25"/>
<circle cx="318.42" cy="293.30" r="1.25"/>
<circle cx="321.46" cy="277.01" r="1.25"/>
<circle cx="324.50" cy="267.06" r="1.25"/>
<circle cx="327.54" cy="258.77" r="1.25"/>
<circle cx="330.58" cy="253.84" r="1.25"/>
<circle cx="333.62" cy="250.21" r="1.25"/>
<circle cx="336.66" cy="248.05" r="1.25"/>
<circle cx="339.70" cy="247.00" r="1.25"/>
<circle cx="342.74" cy="247.00" r="1.25"/>
<circle cx="345.78" cy="247.38" r="1.25"/>
<circle cx="348.82" cy="248.70" r="1.25"/>
<circle cx="351.86" cy="249.56" r="1.25"/>
<circle cx="354.90" cy="250.64" r="1.25"/>
<circle cx="357.94" cy="251.08" r="1.25"/>
<circle cx="360.98" cy="251.08" r="1.25"/>
<circle cx="364.02" cy="251.08" r="1.25"/>
<circle cx="367.06" cy="251.08" r="1.25"/>
<circle cx="370.10" cy="251.08" r="1.25"/>
<circle cx="373.14" cy="251.35" r="1.25"/>
<circle cx="376.18" cy="251.61" r="1.25"/>
<circle cx="379.22" cy="251.87" r="1.25"/>
<circle cx="382.26" cy="252.13" r="1.25"/>
<circle cx="385.30" cy="252.44" r="1.25"/>
<circle cx="388.34" cy="252.75" r="1.25"/>
<circle cx="391.38" cy="253.06" r="1.25"/>
<circle cx="394.42" cy="253.37" r="1.25"/>
<circle cx="397.46" cy="254.12" r="1.25"/>
<circle cx="400.50" cy="254.88" r="1.25"/>
<circle cx="403.54" cy="255.25" r="1.25"/>
<circle cx="406.58" cy="255.55" r="1.25"/>
<circle cx="409.62" cy="256.36" r="1.25"/>
<circle cx="412.66" cy="257.17" r="1.25"/>
<circle cx="415.70" cy="257.75" r="1.25"/>
<circle cx="418.74" cy="258.35" r="1.25"/>
<circle cx="421.78" cy="259.04" r="1.25"/>
<circle cx="424.82" cy="259.74" r="1.25"/>
<circle cx="427.86" cy="260.64" r="1.25"/>
<circle cx="430.90" cy="261.54" r="1.25"/>
<circle cx="433.94" cy="262.44" r="1.25"/>
<circle cx="436.98" cy="263.37" r="1.25"/>
<circle cx="440.02" cy="264.54" r="1.25"/>
<circle cx="443.06" cy="265.70" r="1.25"/>
<circle cx="446.10" cy="266.87" r="1.25"/>
<circle cx="449.14" cy="268.03" r="1.25"/>
<circle cx="452.18" cy="269.20" r="1.25"/>
<circle cx="455.22" cy="270.36" r="1.25"/>
<circle cx="458.26" cy="271.53" r="1.25"/>
<circle cx="461.30" cy="272.74" r="1.25"/>
<circle cx="464.34" cy="273.96" r="1.25"/>
<circle cx="467.38" cy="275.17" r="1.25"/>
<circle cx="470.42" cy="276.39" r="1.25"/>
<circle cx="473.46" cy="277.60" r="1.25"/>
<circle cx="476.50" cy="278.82" r="1.25"/>
<circle cx="479.54" cy="280.03" r="1.25"/>
<circle cx="482.58" cy="281.22" r="1.25"/>
<circle cx="485.62" cy="282.40" r="1.25"/>
<circle cx="488.66" cy="283.58" r="1.25"/>
<circle cx="491.70" cy="284.76" r="1.25"/>
<circle cx="494.74" cy="285.94" r="1.25"/>
<circle cx="497.78" cy="287.12" r="1.25"/>
</g>
<rect x="309.30" y="235.30" width="212.80" height="171.15" fill="none" stroke="#222" stroke-width="1.25"/>
<path d="M309.30 406.45v3.4M309.30 235.30v3M324.50 406.45v1.6M324.50 235.30v1.6M339.70 406.45v3.4M339.70 235.30v3M354.90 406.45v1.6M354.90 235.30v1.6M370.10 406.45v3.4M370.10 235.30v3M385.30 406.45v1.6M385.30 235.30v1.6M400.50 406.45v3.4M400.50 235.30v3M415.70 406.45v1.6M415.70 235.30v1.6M430.90 406.45v3.4M430.90 235.30v3M446.10 406.45v1.6M446.10 235.30v1.6M461.30 406.45v3.4M461.30 235.30v3M476.50 406.45v1.6M476.50 235.30v1.6M491.70 406.45v3.4M491.70 235.30v3M506.90 406.45v1.6M506.90 235.30v1.6M522.10 406.45v3.4M522.10 235.30v3M309.30 406.45h-3.4M309.30 396.94h-1.6M309.30 387.43h-3.4M309.30 377.93h-1.6M309.30 368.42h-3.4M309.30 358.91h-1.6M309.30 349.40h-3.4M309.30 339.89h-1.6M309.30 330.38h-3.4M309.30 320.88h-1.6M309.30 311.37h-3.4M309.30 301.86h-1.6M309.30 292.35h-3.4M309.30 282.84h-1.6M309.30 273.33h-3.4M309.30 263.83h-1.6M309.30 254.32h-3.4M309.30 244.81h-1.6M309.30 235.30h-3.4M522.10 406.45h-3M522.10 396.94h-1.6M522.10 387.43h-3M522.10 377.93h-1.6M522.10 368.42h-3M522.10 358.91h-1.6M522.10 349.40h-3M522.10 339.89h-1.6M522.10 330.38h-3M522.10 320.88h-1.6M522.10 311.37h-3M522.10 301.86h-1.6M522.10 292.35h-3M522.10 282.84h-1.6M522.10 273.33h-3M522.10 263.83h-1.6M522.10 254.32h-3M522.10 244.81h-1.6M522.10 235.30h-3" stroke="#222" stroke-width="1" fill="none"/>
<g class="tl" text-anchor="middle">
<text x="309.30" y="419.45">0</text>
<text x="339.70" y="419.45">5</text>
<text x="370.10" y="419.45">10</text>
<text x="400.50" y="419.45">15</text>
<text x="430.90" y="419.45">20</text>
<text x="461.30" y="419.45">25</text>
<text x="491.70" y="419.45">30</text>
<text x="522.10" y="419.45">35</text>
</g>
<g class="tl" text-anchor="end">
<text x="303.70" y="409.45">10</text>
<text x="303.70" y="390.43">12</text>
<text x="303.70" y="371.42">14</text>
<text x="303.70" y="352.40">16</text>
<text x="303.70" y="333.38">18</text>
<text x="303.70" y="314.37">20</text>
<text x="303.70" y="295.35">22</text>
<text x="303.70" y="276.33">24</text>
<text x="303.70" y="257.32">26</text>
<text x="303.70" y="238.30">28</text>
</g>
<g class="tl" text-anchor="start">
<text x="525.70" y="409.45">0</text>
<text x="525.70" y="390.43">1</text>
<text x="525.70" y="371.42">2</text>
<text x="525.70" y="352.40">3</text>
<text x="525.70" y="333.38">4</text>
<text x="525.70" y="314.37">5</text>
<text x="525.70" y="295.35">6</text>
<text x="525.70" y="276.33">7</text>
<text x="525.70" y="257.32">8</text>
<text x="525.70" y="238.30">9</text>
</g>
<text class="ti" text-anchor="middle" transform="translate(291.70 320.27) rotate(-90)">Temperature (<tspan class="sup" dy="-3.2">o</tspan><tspan dy="3.2">C)</tspan></text>
<text class="ti" text-anchor="middle" transform="translate(542.40 320.38) rotate(-90)">Absolute error (<tspan class="sup" dy="-3.2">o</tspan><tspan dy="3.2">C)</tspan></text>
<text class="ti" text-anchor="middle" x="415.80" y="436.25">Age (d)</text>
<text class="cap" text-anchor="middle" x="413.80" y="452.85">(f)</text>
<rect x="439.20" y="345.50" width="76.40" height="33.80" fill="#bbb"/>
<rect x="438.20" y="344.50" width="76.40" height="33.80" fill="#fff" stroke="#888" stroke-width="0.7"/>
<path d="M439.50 350.50H459.00" stroke="#2A48B8" stroke-width="0.8"/><circle cx="449.25" cy="350.50" r="1.15" fill="#2A48B8"/>
<path d="M439.50 361.30H459.00" stroke="#FF1F3D" stroke-width="0.8"/><circle cx="449.25" cy="361.30" r="1.15" fill="#FF1F3D"/>
<rect x="439.50" y="367.70" width="19.50" height="9.3" fill="#4ECB9B" stroke="#1F6B4B" stroke-width="0.6"/>
<g class="lg"><text x="461.90" y="353.40">Monitored</text><text x="461.90" y="364.20">Calculated</text><text x="461.90" y="375.20">Absolute error</text></g>
</g>
</svg>
</body>
</html>
